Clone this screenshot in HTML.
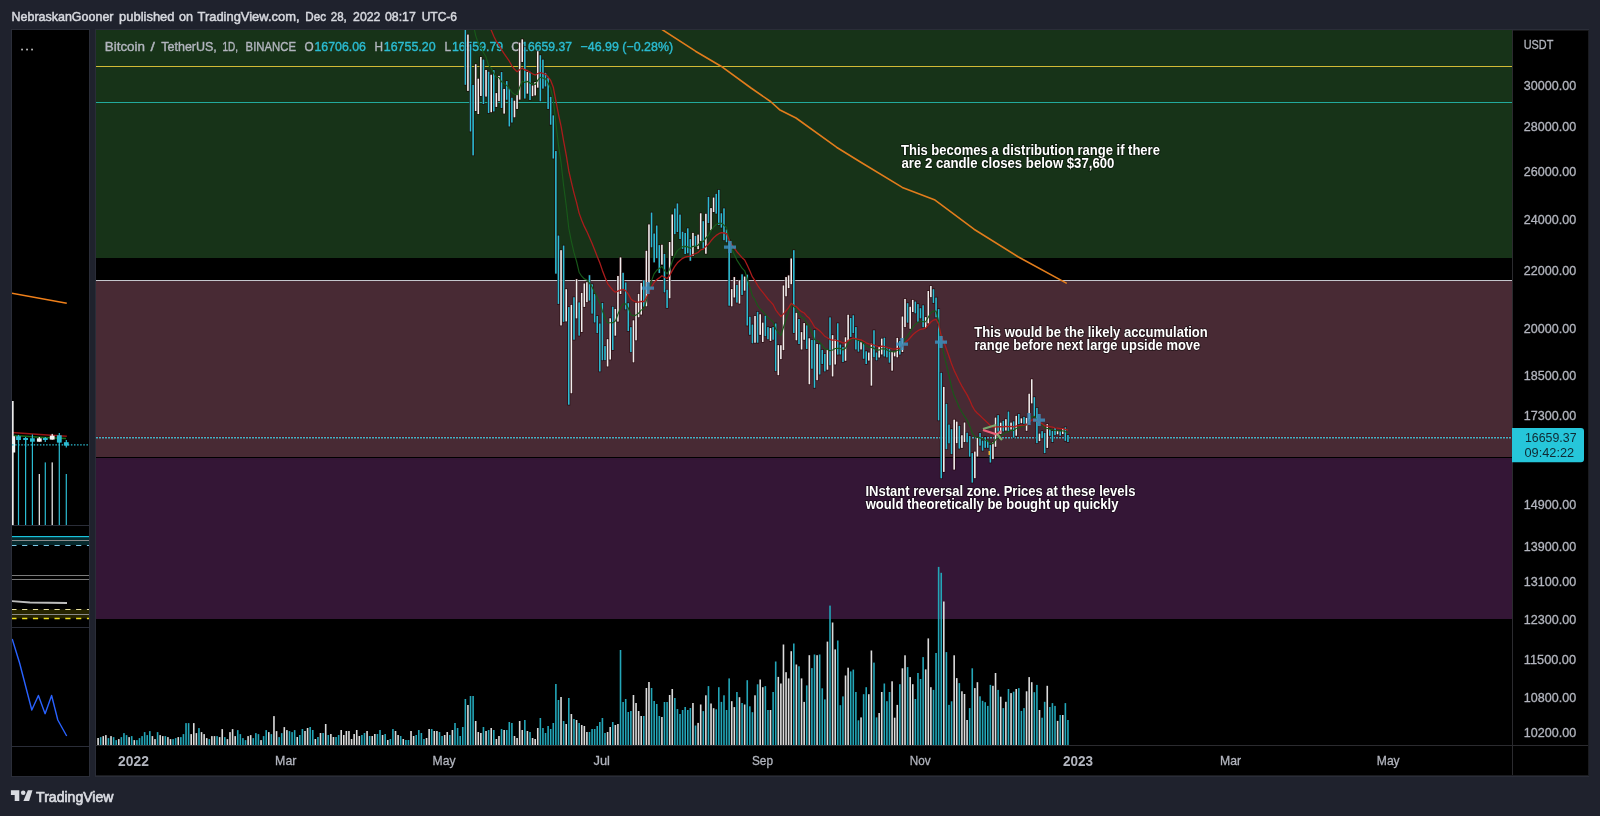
<!DOCTYPE html>
<html><head><meta charset="utf-8">
<style>
*{margin:0;padding:0}
html,body{width:1600px;height:816px;overflow:hidden;background:#1f222d}
svg{position:absolute;left:0;top:0;font-family:"Liberation Sans",sans-serif;will-change:transform}
</style></head><body>
<svg width="1600" height="816" viewBox="0 0 1600 816">
<defs>
<clipPath id="cp"><rect x="96" y="30" width="1416" height="715"/></clipPath>
<clipPath id="lpc"><rect x="12" y="30" width="77" height="746"/></clipPath>
</defs>
<rect x="0" y="0" width="1600" height="816" fill="#1f222d"/>
<rect x="11" y="29" width="79" height="748" fill="#2a2d38"/>
<rect x="95" y="29" width="1494" height="748" fill="#2a2d38"/>
<g clip-path="url(#lpc)">
<rect x="12" y="30" width="77" height="746" fill="#000"/>
<rect x="21.2" y="48.7" width="1.7" height="1.7" fill="#c8c8c8"/>
<rect x="26.2" y="48.7" width="1.7" height="1.7" fill="#c8c8c8"/>
<rect x="31.2" y="48.7" width="1.7" height="1.7" fill="#c8c8c8"/>
<line x1="11" y1="293" x2="66.8" y2="303.3" stroke="#f0801a" stroke-width="1.5"/>
<polyline fill="none" stroke="#961515" stroke-width="1.6" points="11,432.5 40,434.5 66.8,436.2"/>
<polyline fill="none" stroke="#176a18" stroke-width="1.5" points="14,435.5 40,437.2 66,438.5"/>
<rect x="12.2" y="401" width="1.2" height="124.0" fill="#f4f4f4"/>
<rect x="12.2" y="401" width="1.2" height="124.0" fill="#f4f4f4"/>
<rect x="10.4" y="436.2" width="4.8" height="16.3" fill="#f4f4f4"/>
<rect x="17.9" y="440" width="1.2" height="85.0" fill="#2bbcd2"/>
<rect x="17.9" y="434.9" width="1.2" height="7.7" fill="#2bbcd2"/>
<rect x="16.1" y="436.2" width="4.8" height="3.8" fill="#2bbcd2"/>
<rect x="25.0" y="440" width="1.2" height="85.0" fill="#2bbcd2"/>
<rect x="25.0" y="437" width="1.2" height="10.0" fill="#2bbcd2"/>
<rect x="23.2" y="438" width="4.8" height="2.0" fill="#2bbcd2"/>
<rect x="31.8" y="441" width="1.2" height="84.0" fill="#2bbcd2"/>
<rect x="31.8" y="434.5" width="1.2" height="7.2" fill="#2bbcd2"/>
<rect x="30.0" y="438.3" width="4.8" height="3.4" fill="#2bbcd2"/>
<rect x="38.7" y="474" width="1.2" height="51.0" fill="#f4f4f4"/>
<rect x="38.7" y="437" width="1.2" height="4.7" fill="#f4f4f4"/>
<rect x="36.9" y="438.3" width="4.8" height="3.4" fill="#f4f4f4"/>
<rect x="44.7" y="462.4" width="1.2" height="62.6" fill="#2bbcd2"/>
<rect x="44.7" y="437" width="1.2" height="5.0" fill="#2bbcd2"/>
<rect x="42.9" y="438" width="4.8" height="2.0" fill="#2bbcd2"/>
<rect x="51.6" y="462.4" width="1.2" height="62.6" fill="#f4f4f4"/>
<rect x="51.6" y="433.9" width="1.2" height="5.7" fill="#f4f4f4"/>
<rect x="49.8" y="435.7" width="4.8" height="3.9" fill="#f4f4f4"/>
<rect x="58.7" y="442" width="1.2" height="83.0" fill="#2bbcd2"/>
<rect x="58.7" y="433" width="1.2" height="9.6" fill="#2bbcd2"/>
<rect x="56.9" y="435.3" width="4.8" height="7.3" fill="#2bbcd2"/>
<rect x="65.7" y="474" width="1.2" height="51.0" fill="#2bbcd2"/>
<rect x="65.7" y="440" width="1.2" height="7.5" fill="#2bbcd2"/>
<rect x="63.9" y="442.2" width="4.8" height="3.4" fill="#2bbcd2"/>
<line x1="12" y1="444.8" x2="89" y2="444.8" stroke="#2bbcd2" stroke-width="1.2" stroke-dasharray="1.5 1.6"/>
<rect x="12" y="525" width="77" height="1" fill="#2a2d38"/>
<rect x="12" y="537" width="77" height="8" fill="#062a2e"/>
<rect x="12" y="536" width="77" height="1.2" fill="#19c3dc"/>
<rect x="12" y="540" width="77" height="1" fill="#8a8a8a"/>
<line x1="11.3" y1="545.5" x2="89" y2="545.5" stroke="#7cc8e8" stroke-width="1" stroke-dasharray="5.2 5.6"/>
<rect x="12" y="575" width="77" height="1" fill="#7a7a7a"/>
<rect x="12" y="579" width="77" height="1" fill="#7a7a7a"/>
<polyline fill="none" stroke="#bdbdbd" stroke-width="1.8" points="11,601 30,602.5 67,603"/>
<rect x="12" y="609.5" width="77" height="9" fill="#262400"/>
<line x1="11.3" y1="609.5" x2="89" y2="609.5" stroke="#e8e0a0" stroke-width="1.2" stroke-dasharray="5.2 5.6"/>
<rect x="12" y="614" width="77" height="1" fill="#8a8a8a"/>
<line x1="11.3" y1="618.5" x2="89" y2="618.5" stroke="#f0e020" stroke-width="1.3" stroke-dasharray="5.2 5.6"/>
<rect x="12" y="627" width="77" height="1" fill="#2a2d38"/>
<polyline fill="none" stroke="#2962ff" stroke-width="1.4" stroke-linejoin="round" points="12.2,639 19.6,663 31.8,710 38.4,695.5 45.1,713.7 51.6,695.5 57.8,720 66.7,736"/>
<rect x="12" y="746" width="77" height="1" fill="#2a2d38"/>
</g>
<g clip-path="url(#cp)">
<rect x="96" y="30" width="1416" height="715" fill="#000"/>
<rect x="96" y="30" width="1416" height="228" fill="#173318"/>
<rect x="96" y="281" width="1416" height="176" fill="#482a34"/>
<rect x="96" y="458" width="1416" height="161" fill="#341636"/>
<rect x="96" y="280" width="1416" height="1" fill="#c4c6cc"/>
<rect x="96" y="66" width="1416" height="1" fill="#d2ba36"/>
<rect x="96" y="102" width="1416" height="1" fill="#22aa9c"/>
<text x="104.75" y="50.60" font-size="13" fill="#b2b5be" textLength="40.27" lengthAdjust="spacingAndGlyphs" stroke="#b2b5be" stroke-width="0.4">Bitcoin</text>
<text x="150.60" y="50.60" font-size="13" fill="#b2b5be" textLength="4.37" lengthAdjust="spacingAndGlyphs" stroke="#b2b5be" stroke-width="0.4">/</text>
<text x="161.25" y="50.60" font-size="13" fill="#b2b5be" textLength="55.60" lengthAdjust="spacingAndGlyphs" stroke="#b2b5be" stroke-width="0.4">TetherUS,</text>
<text x="222.50" y="50.60" font-size="13" fill="#b2b5be" textLength="15.56" lengthAdjust="spacingAndGlyphs" stroke="#b2b5be" stroke-width="0.4">1D,</text>
<text x="245.60" y="50.60" font-size="13" fill="#b2b5be" textLength="50.35" lengthAdjust="spacingAndGlyphs" stroke="#b2b5be" stroke-width="0.4">BINANCE</text>
<text x="304.40" y="50.60" font-size="13" fill="#b2b5be" textLength="9.17" lengthAdjust="spacingAndGlyphs" stroke="#b2b5be" stroke-width="0.4">O</text>
<text x="314.40" y="50.60" font-size="13" fill="#2bbcd2" textLength="51.61" lengthAdjust="spacingAndGlyphs" stroke="#2bbcd2" stroke-width="0.4">16706.06</text>
<text x="374.40" y="50.60" font-size="13" fill="#b2b5be" textLength="8.53" lengthAdjust="spacingAndGlyphs" stroke="#b2b5be" stroke-width="0.4">H</text>
<text x="383.75" y="50.60" font-size="13" fill="#2bbcd2" textLength="51.86" lengthAdjust="spacingAndGlyphs" stroke="#2bbcd2" stroke-width="0.4">16755.20</text>
<text x="444.40" y="50.60" font-size="13" fill="#b2b5be" textLength="6.55" lengthAdjust="spacingAndGlyphs" stroke="#b2b5be" stroke-width="0.4">L</text>
<text x="451.90" y="50.60" font-size="13" fill="#2bbcd2" textLength="51.21" lengthAdjust="spacingAndGlyphs" stroke="#2bbcd2" stroke-width="0.4">16559.79</text>
<text x="511.25" y="50.60" font-size="13" fill="#b2b5be" textLength="9.18" lengthAdjust="spacingAndGlyphs" stroke="#b2b5be" stroke-width="0.4">C</text>
<text x="521.25" y="50.60" font-size="13" fill="#2bbcd2" textLength="50.66" lengthAdjust="spacingAndGlyphs" stroke="#2bbcd2" stroke-width="0.4">16659.37</text>
<text x="580.60" y="50.60" font-size="13" fill="#2bbcd2" textLength="92.49" lengthAdjust="spacingAndGlyphs" stroke="#2bbcd2" stroke-width="0.4">−46.99 (−0.28%)</text>
<rect x="96" y="436.5" width="1416" height="2" fill="#5c0c18" fill-opacity="0.6"/>
<line x1="96" y1="437.8" x2="1512" y2="437.8" stroke="#40b2c4" stroke-width="1.5" stroke-dasharray="2 1"/>
<rect x="96" y="457" width="1416" height="1" fill="#000"/>
<rect x="97.29" y="738.00" width="1.6" height="7.50" fill="#dcdcdc"/>
<rect x="99.88" y="737.10" width="1.6" height="8.40" fill="#23a6b8"/>
<rect x="102.46" y="736.10" width="1.6" height="9.40" fill="#dcdcdc"/>
<rect x="105.05" y="735.10" width="1.6" height="10.40" fill="#dcdcdc"/>
<rect x="107.64" y="738.10" width="1.6" height="7.40" fill="#23a6b8"/>
<rect x="110.22" y="736.10" width="1.6" height="9.40" fill="#dcdcdc"/>
<rect x="112.81" y="737.10" width="1.6" height="8.40" fill="#23a6b8"/>
<rect x="115.40" y="740.10" width="1.6" height="5.40" fill="#23a6b8"/>
<rect x="117.98" y="739.10" width="1.6" height="6.40" fill="#dcdcdc"/>
<rect x="120.57" y="737.10" width="1.6" height="8.40" fill="#23a6b8"/>
<rect x="123.15" y="733.10" width="1.6" height="12.40" fill="#23a6b8"/>
<rect x="125.74" y="735.10" width="1.6" height="10.40" fill="#23a6b8"/>
<rect x="128.33" y="737.10" width="1.6" height="8.40" fill="#dcdcdc"/>
<rect x="130.91" y="736.10" width="1.6" height="9.40" fill="#23a6b8"/>
<rect x="133.50" y="740.10" width="1.6" height="5.40" fill="#dcdcdc"/>
<rect x="136.09" y="740.10" width="1.6" height="5.40" fill="#23a6b8"/>
<rect x="138.67" y="738.10" width="1.6" height="7.40" fill="#23a6b8"/>
<rect x="141.26" y="736.10" width="1.6" height="9.40" fill="#23a6b8"/>
<rect x="143.85" y="732.10" width="1.6" height="13.40" fill="#23a6b8"/>
<rect x="146.43" y="735.10" width="1.6" height="10.40" fill="#23a6b8"/>
<rect x="149.02" y="731.10" width="1.6" height="14.40" fill="#23a6b8"/>
<rect x="151.60" y="736.10" width="1.6" height="9.40" fill="#dcdcdc"/>
<rect x="154.19" y="739.10" width="1.6" height="6.40" fill="#dcdcdc"/>
<rect x="156.78" y="732.10" width="1.6" height="13.40" fill="#23a6b8"/>
<rect x="159.36" y="735.10" width="1.6" height="10.40" fill="#dcdcdc"/>
<rect x="161.95" y="736.10" width="1.6" height="9.40" fill="#dcdcdc"/>
<rect x="164.54" y="736.10" width="1.6" height="9.40" fill="#23a6b8"/>
<rect x="167.12" y="737.10" width="1.6" height="8.40" fill="#dcdcdc"/>
<rect x="169.71" y="739.10" width="1.6" height="6.40" fill="#dcdcdc"/>
<rect x="172.29" y="739.10" width="1.6" height="6.40" fill="#23a6b8"/>
<rect x="174.88" y="738.10" width="1.6" height="7.40" fill="#23a6b8"/>
<rect x="177.47" y="737.10" width="1.6" height="8.40" fill="#dcdcdc"/>
<rect x="180.05" y="737.10" width="1.6" height="8.40" fill="#23a6b8"/>
<rect x="182.64" y="734.10" width="1.6" height="11.40" fill="#23a6b8"/>
<rect x="185.23" y="723.10" width="1.6" height="22.40" fill="#23a6b8"/>
<rect x="187.81" y="723.10" width="1.6" height="22.40" fill="#23a6b8"/>
<rect x="190.40" y="734.10" width="1.6" height="11.40" fill="#dcdcdc"/>
<rect x="192.98" y="723.10" width="1.6" height="22.40" fill="#dcdcdc"/>
<rect x="195.57" y="733.10" width="1.6" height="12.40" fill="#dcdcdc"/>
<rect x="198.16" y="728.10" width="1.6" height="17.40" fill="#23a6b8"/>
<rect x="200.74" y="732.10" width="1.6" height="13.40" fill="#dcdcdc"/>
<rect x="203.33" y="734.10" width="1.6" height="11.40" fill="#dcdcdc"/>
<rect x="205.92" y="738.10" width="1.6" height="7.40" fill="#dcdcdc"/>
<rect x="208.50" y="739.10" width="1.6" height="6.40" fill="#23a6b8"/>
<rect x="211.09" y="736.10" width="1.6" height="9.40" fill="#dcdcdc"/>
<rect x="213.68" y="736.10" width="1.6" height="9.40" fill="#dcdcdc"/>
<rect x="216.26" y="736.10" width="1.6" height="9.40" fill="#23a6b8"/>
<rect x="218.85" y="737.10" width="1.6" height="8.40" fill="#dcdcdc"/>
<rect x="221.43" y="729.10" width="1.6" height="16.40" fill="#dcdcdc"/>
<rect x="224.02" y="737.10" width="1.6" height="8.40" fill="#23a6b8"/>
<rect x="226.61" y="739.10" width="1.6" height="6.40" fill="#dcdcdc"/>
<rect x="229.19" y="732.10" width="1.6" height="13.40" fill="#dcdcdc"/>
<rect x="231.78" y="729.10" width="1.6" height="16.40" fill="#dcdcdc"/>
<rect x="234.37" y="736.10" width="1.6" height="9.40" fill="#dcdcdc"/>
<rect x="236.95" y="730.10" width="1.6" height="15.40" fill="#23a6b8"/>
<rect x="239.54" y="734.10" width="1.6" height="11.40" fill="#23a6b8"/>
<rect x="242.12" y="738.10" width="1.6" height="7.40" fill="#23a6b8"/>
<rect x="244.71" y="740.10" width="1.6" height="5.40" fill="#23a6b8"/>
<rect x="247.30" y="736.10" width="1.6" height="9.40" fill="#dcdcdc"/>
<rect x="249.88" y="735.10" width="1.6" height="10.40" fill="#dcdcdc"/>
<rect x="252.47" y="738.10" width="1.6" height="7.40" fill="#23a6b8"/>
<rect x="255.06" y="733.10" width="1.6" height="12.40" fill="#23a6b8"/>
<rect x="257.64" y="734.10" width="1.6" height="11.40" fill="#23a6b8"/>
<rect x="260.23" y="740.10" width="1.6" height="5.40" fill="#dcdcdc"/>
<rect x="262.81" y="736.10" width="1.6" height="9.40" fill="#23a6b8"/>
<rect x="265.40" y="730.10" width="1.6" height="15.40" fill="#23a6b8"/>
<rect x="267.99" y="732.10" width="1.6" height="13.40" fill="#dcdcdc"/>
<rect x="270.57" y="734.10" width="1.6" height="11.40" fill="#23a6b8"/>
<rect x="273.16" y="716.10" width="1.6" height="29.40" fill="#dcdcdc"/>
<rect x="275.75" y="731.10" width="1.6" height="14.40" fill="#dcdcdc"/>
<rect x="278.33" y="737.10" width="1.6" height="8.40" fill="#23a6b8"/>
<rect x="280.92" y="733.10" width="1.6" height="12.40" fill="#23a6b8"/>
<rect x="283.51" y="727.10" width="1.6" height="18.40" fill="#dcdcdc"/>
<rect x="286.09" y="730.10" width="1.6" height="15.40" fill="#dcdcdc"/>
<rect x="288.68" y="731.10" width="1.6" height="14.40" fill="#23a6b8"/>
<rect x="291.26" y="732.10" width="1.6" height="13.40" fill="#23a6b8"/>
<rect x="293.85" y="730.10" width="1.6" height="15.40" fill="#23a6b8"/>
<rect x="296.44" y="737.00" width="1.6" height="8.50" fill="#dcdcdc"/>
<rect x="299.02" y="735.00" width="1.6" height="10.50" fill="#23a6b8"/>
<rect x="301.61" y="729.00" width="1.6" height="16.50" fill="#23a6b8"/>
<rect x="304.20" y="731.00" width="1.6" height="14.50" fill="#dcdcdc"/>
<rect x="306.78" y="728.00" width="1.6" height="17.50" fill="#dcdcdc"/>
<rect x="309.37" y="727.00" width="1.6" height="18.50" fill="#23a6b8"/>
<rect x="311.95" y="730.00" width="1.6" height="15.50" fill="#23a6b8"/>
<rect x="314.54" y="739.00" width="1.6" height="6.50" fill="#dcdcdc"/>
<rect x="317.13" y="737.00" width="1.6" height="8.50" fill="#23a6b8"/>
<rect x="319.71" y="733.00" width="1.6" height="12.50" fill="#dcdcdc"/>
<rect x="322.30" y="733.00" width="1.6" height="12.50" fill="#23a6b8"/>
<rect x="324.89" y="724.00" width="1.6" height="21.50" fill="#dcdcdc"/>
<rect x="327.47" y="735.00" width="1.6" height="10.50" fill="#23a6b8"/>
<rect x="330.06" y="734.00" width="1.6" height="11.50" fill="#dcdcdc"/>
<rect x="332.65" y="737.00" width="1.6" height="8.50" fill="#dcdcdc"/>
<rect x="335.23" y="737.00" width="1.6" height="8.50" fill="#23a6b8"/>
<rect x="337.82" y="735.00" width="1.6" height="10.50" fill="#23a6b8"/>
<rect x="340.40" y="730.00" width="1.6" height="15.50" fill="#dcdcdc"/>
<rect x="342.99" y="735.00" width="1.6" height="10.50" fill="#dcdcdc"/>
<rect x="345.58" y="731.00" width="1.6" height="14.50" fill="#dcdcdc"/>
<rect x="348.16" y="731.00" width="1.6" height="14.50" fill="#dcdcdc"/>
<rect x="350.75" y="739.00" width="1.6" height="6.50" fill="#dcdcdc"/>
<rect x="353.34" y="734.00" width="1.6" height="11.50" fill="#dcdcdc"/>
<rect x="355.92" y="730.00" width="1.6" height="15.50" fill="#dcdcdc"/>
<rect x="358.51" y="736.00" width="1.6" height="9.50" fill="#dcdcdc"/>
<rect x="361.09" y="735.00" width="1.6" height="10.50" fill="#23a6b8"/>
<rect x="363.68" y="733.00" width="1.6" height="12.50" fill="#23a6b8"/>
<rect x="366.27" y="731.00" width="1.6" height="14.50" fill="#dcdcdc"/>
<rect x="368.85" y="736.00" width="1.6" height="9.50" fill="#23a6b8"/>
<rect x="371.44" y="736.00" width="1.6" height="9.50" fill="#dcdcdc"/>
<rect x="374.03" y="734.00" width="1.6" height="11.50" fill="#dcdcdc"/>
<rect x="376.61" y="734.00" width="1.6" height="11.50" fill="#23a6b8"/>
<rect x="379.20" y="730.00" width="1.6" height="15.50" fill="#23a6b8"/>
<rect x="381.78" y="735.00" width="1.6" height="10.50" fill="#dcdcdc"/>
<rect x="384.37" y="734.00" width="1.6" height="11.50" fill="#23a6b8"/>
<rect x="386.96" y="740.00" width="1.6" height="5.50" fill="#dcdcdc"/>
<rect x="389.54" y="739.00" width="1.6" height="6.50" fill="#23a6b8"/>
<rect x="392.13" y="729.00" width="1.6" height="16.50" fill="#23a6b8"/>
<rect x="394.72" y="731.00" width="1.6" height="14.50" fill="#dcdcdc"/>
<rect x="397.30" y="735.00" width="1.6" height="10.50" fill="#dcdcdc"/>
<rect x="399.89" y="736.00" width="1.6" height="9.50" fill="#23a6b8"/>
<rect x="402.48" y="739.00" width="1.6" height="6.50" fill="#dcdcdc"/>
<rect x="405.06" y="740.00" width="1.6" height="5.50" fill="#23a6b8"/>
<rect x="407.65" y="740.00" width="1.6" height="5.50" fill="#23a6b8"/>
<rect x="410.23" y="731.00" width="1.6" height="14.50" fill="#dcdcdc"/>
<rect x="412.82" y="736.00" width="1.6" height="9.50" fill="#dcdcdc"/>
<rect x="415.41" y="735.00" width="1.6" height="10.50" fill="#23a6b8"/>
<rect x="417.99" y="730.00" width="1.6" height="15.50" fill="#23a6b8"/>
<rect x="420.58" y="733.00" width="1.6" height="12.50" fill="#23a6b8"/>
<rect x="423.17" y="739.00" width="1.6" height="6.50" fill="#23a6b8"/>
<rect x="425.75" y="738.00" width="1.6" height="7.50" fill="#dcdcdc"/>
<rect x="428.34" y="729.00" width="1.6" height="16.50" fill="#dcdcdc"/>
<rect x="430.92" y="729.00" width="1.6" height="16.50" fill="#23a6b8"/>
<rect x="433.51" y="731.00" width="1.6" height="14.50" fill="#dcdcdc"/>
<rect x="436.10" y="731.00" width="1.6" height="14.50" fill="#dcdcdc"/>
<rect x="438.68" y="732.00" width="1.6" height="13.50" fill="#23a6b8"/>
<rect x="441.27" y="736.00" width="1.6" height="9.50" fill="#23a6b8"/>
<rect x="443.86" y="735.00" width="1.6" height="10.50" fill="#dcdcdc"/>
<rect x="446.44" y="732.00" width="1.6" height="13.50" fill="#dcdcdc"/>
<rect x="449.03" y="735.00" width="1.6" height="10.50" fill="#23a6b8"/>
<rect x="451.61" y="730.00" width="1.6" height="15.50" fill="#dcdcdc"/>
<rect x="454.20" y="723.00" width="1.6" height="22.50" fill="#23a6b8"/>
<rect x="456.79" y="728.00" width="1.6" height="17.50" fill="#23a6b8"/>
<rect x="459.37" y="736.00" width="1.6" height="9.50" fill="#23a6b8"/>
<rect x="461.96" y="727.00" width="1.6" height="18.50" fill="#23a6b8"/>
<rect x="464.55" y="699.00" width="1.6" height="46.50" fill="#23a6b8"/>
<rect x="467.13" y="705.00" width="1.6" height="40.50" fill="#dcdcdc"/>
<rect x="469.72" y="696.00" width="1.6" height="49.50" fill="#23a6b8"/>
<rect x="472.31" y="696.00" width="1.6" height="49.50" fill="#23a6b8"/>
<rect x="474.89" y="721.00" width="1.6" height="24.50" fill="#dcdcdc"/>
<rect x="477.48" y="732.00" width="1.6" height="13.50" fill="#dcdcdc"/>
<rect x="480.06" y="733.00" width="1.6" height="12.50" fill="#dcdcdc"/>
<rect x="482.65" y="727.00" width="1.6" height="18.50" fill="#23a6b8"/>
<rect x="485.24" y="731.00" width="1.6" height="14.50" fill="#dcdcdc"/>
<rect x="487.82" y="730.00" width="1.6" height="15.50" fill="#23a6b8"/>
<rect x="490.41" y="728.00" width="1.6" height="17.50" fill="#dcdcdc"/>
<rect x="493.00" y="730.00" width="1.6" height="15.50" fill="#23a6b8"/>
<rect x="495.58" y="739.00" width="1.6" height="6.50" fill="#dcdcdc"/>
<rect x="498.17" y="736.00" width="1.6" height="9.50" fill="#dcdcdc"/>
<rect x="500.75" y="729.00" width="1.6" height="16.50" fill="#23a6b8"/>
<rect x="503.34" y="730.00" width="1.6" height="15.50" fill="#dcdcdc"/>
<rect x="505.93" y="730.00" width="1.6" height="15.50" fill="#23a6b8"/>
<rect x="508.51" y="722.00" width="1.6" height="23.50" fill="#23a6b8"/>
<rect x="511.10" y="723.00" width="1.6" height="22.50" fill="#23a6b8"/>
<rect x="513.69" y="736.00" width="1.6" height="9.50" fill="#dcdcdc"/>
<rect x="516.27" y="738.00" width="1.6" height="7.50" fill="#dcdcdc"/>
<rect x="518.86" y="721.00" width="1.6" height="24.50" fill="#dcdcdc"/>
<rect x="521.45" y="730.00" width="1.6" height="15.50" fill="#dcdcdc"/>
<rect x="524.03" y="720.00" width="1.6" height="25.50" fill="#23a6b8"/>
<rect x="526.62" y="731.00" width="1.6" height="14.50" fill="#dcdcdc"/>
<rect x="529.20" y="732.00" width="1.6" height="13.50" fill="#23a6b8"/>
<rect x="531.79" y="738.00" width="1.6" height="7.50" fill="#dcdcdc"/>
<rect x="534.38" y="739.00" width="1.6" height="6.50" fill="#dcdcdc"/>
<rect x="536.96" y="728.00" width="1.6" height="17.50" fill="#dcdcdc"/>
<rect x="539.55" y="718.00" width="1.6" height="27.50" fill="#23a6b8"/>
<rect x="542.14" y="728.00" width="1.6" height="17.50" fill="#23a6b8"/>
<rect x="544.72" y="733.00" width="1.6" height="12.50" fill="#23a6b8"/>
<rect x="547.31" y="726.00" width="1.6" height="19.50" fill="#23a6b8"/>
<rect x="549.89" y="729.00" width="1.6" height="16.50" fill="#23a6b8"/>
<rect x="552.48" y="723.00" width="1.6" height="22.50" fill="#23a6b8"/>
<rect x="555.07" y="684.00" width="1.6" height="61.50" fill="#23a6b8"/>
<rect x="557.65" y="700.00" width="1.6" height="45.50" fill="#23a6b8"/>
<rect x="560.24" y="697.00" width="1.6" height="48.50" fill="#dcdcdc"/>
<rect x="562.83" y="721.00" width="1.6" height="24.50" fill="#23a6b8"/>
<rect x="565.41" y="724.00" width="1.6" height="21.50" fill="#dcdcdc"/>
<rect x="568.00" y="698.00" width="1.6" height="47.50" fill="#23a6b8"/>
<rect x="570.58" y="714.00" width="1.6" height="31.50" fill="#dcdcdc"/>
<rect x="573.17" y="719.00" width="1.6" height="26.50" fill="#23a6b8"/>
<rect x="575.76" y="720.00" width="1.6" height="25.50" fill="#dcdcdc"/>
<rect x="578.34" y="723.00" width="1.6" height="22.50" fill="#23a6b8"/>
<rect x="580.93" y="725.00" width="1.6" height="20.50" fill="#dcdcdc"/>
<rect x="583.52" y="726.00" width="1.6" height="19.50" fill="#dcdcdc"/>
<rect x="586.10" y="732.00" width="1.6" height="13.50" fill="#dcdcdc"/>
<rect x="588.69" y="732.00" width="1.6" height="13.50" fill="#23a6b8"/>
<rect x="591.28" y="729.00" width="1.6" height="16.50" fill="#23a6b8"/>
<rect x="593.86" y="729.00" width="1.6" height="16.50" fill="#23a6b8"/>
<rect x="596.45" y="726.00" width="1.6" height="19.50" fill="#23a6b8"/>
<rect x="599.03" y="722.00" width="1.6" height="23.50" fill="#23a6b8"/>
<rect x="601.62" y="718.00" width="1.6" height="27.50" fill="#23a6b8"/>
<rect x="604.21" y="733.00" width="1.6" height="12.50" fill="#23a6b8"/>
<rect x="606.79" y="732.00" width="1.6" height="13.50" fill="#dcdcdc"/>
<rect x="609.38" y="727.00" width="1.6" height="18.50" fill="#dcdcdc"/>
<rect x="611.97" y="722.00" width="1.6" height="23.50" fill="#23a6b8"/>
<rect x="614.55" y="725.00" width="1.6" height="20.50" fill="#dcdcdc"/>
<rect x="617.14" y="724.00" width="1.6" height="21.50" fill="#dcdcdc"/>
<rect x="619.72" y="650.00" width="1.6" height="95.50" fill="#23a6b8"/>
<rect x="622.31" y="702.00" width="1.6" height="43.50" fill="#23a6b8"/>
<rect x="624.90" y="699.00" width="1.6" height="46.50" fill="#23a6b8"/>
<rect x="627.48" y="712.00" width="1.6" height="33.50" fill="#23a6b8"/>
<rect x="630.07" y="711.00" width="1.6" height="34.50" fill="#23a6b8"/>
<rect x="632.66" y="695.00" width="1.6" height="50.50" fill="#dcdcdc"/>
<rect x="635.24" y="703.00" width="1.6" height="42.50" fill="#dcdcdc"/>
<rect x="637.83" y="711.00" width="1.6" height="34.50" fill="#dcdcdc"/>
<rect x="640.41" y="716.00" width="1.6" height="29.50" fill="#dcdcdc"/>
<rect x="643.00" y="716.00" width="1.6" height="29.50" fill="#23a6b8"/>
<rect x="645.59" y="688.00" width="1.6" height="57.50" fill="#dcdcdc"/>
<rect x="648.17" y="682.00" width="1.6" height="63.50" fill="#dcdcdc"/>
<rect x="650.76" y="688.00" width="1.6" height="57.50" fill="#23a6b8"/>
<rect x="653.35" y="701.00" width="1.6" height="44.50" fill="#23a6b8"/>
<rect x="655.93" y="704.00" width="1.6" height="41.50" fill="#23a6b8"/>
<rect x="658.52" y="716.00" width="1.6" height="29.50" fill="#23a6b8"/>
<rect x="661.11" y="717.00" width="1.6" height="28.50" fill="#dcdcdc"/>
<rect x="663.69" y="702.00" width="1.6" height="43.50" fill="#23a6b8"/>
<rect x="666.28" y="702.00" width="1.6" height="43.50" fill="#23a6b8"/>
<rect x="668.86" y="695.00" width="1.6" height="50.50" fill="#dcdcdc"/>
<rect x="671.45" y="689.00" width="1.6" height="56.50" fill="#dcdcdc"/>
<rect x="674.04" y="698.00" width="1.6" height="47.50" fill="#23a6b8"/>
<rect x="676.62" y="709.00" width="1.6" height="36.50" fill="#23a6b8"/>
<rect x="679.21" y="714.00" width="1.6" height="31.50" fill="#23a6b8"/>
<rect x="681.80" y="710.00" width="1.6" height="35.50" fill="#23a6b8"/>
<rect x="684.38" y="707.00" width="1.6" height="38.50" fill="#23a6b8"/>
<rect x="686.97" y="710.00" width="1.6" height="35.50" fill="#23a6b8"/>
<rect x="689.55" y="708.00" width="1.6" height="37.50" fill="#23a6b8"/>
<rect x="692.14" y="703.00" width="1.6" height="42.50" fill="#dcdcdc"/>
<rect x="694.73" y="725.50" width="1.6" height="20.00" fill="#23a6b8"/>
<rect x="697.31" y="722.90" width="1.6" height="22.60" fill="#dcdcdc"/>
<rect x="699.90" y="704.50" width="1.6" height="41.00" fill="#dcdcdc"/>
<rect x="702.49" y="711.10" width="1.6" height="34.40" fill="#23a6b8"/>
<rect x="705.07" y="695.30" width="1.6" height="50.20" fill="#dcdcdc"/>
<rect x="707.66" y="686.10" width="1.6" height="59.40" fill="#23a6b8"/>
<rect x="710.24" y="703.50" width="1.6" height="42.00" fill="#dcdcdc"/>
<rect x="712.83" y="708.20" width="1.6" height="37.30" fill="#dcdcdc"/>
<rect x="715.42" y="709.30" width="1.6" height="36.20" fill="#23a6b8"/>
<rect x="718.00" y="687.20" width="1.6" height="58.30" fill="#23a6b8"/>
<rect x="720.59" y="701.90" width="1.6" height="43.60" fill="#23a6b8"/>
<rect x="723.18" y="695.30" width="1.6" height="50.20" fill="#23a6b8"/>
<rect x="725.76" y="710.00" width="1.6" height="35.50" fill="#23a6b8"/>
<rect x="728.35" y="678.40" width="1.6" height="67.10" fill="#23a6b8"/>
<rect x="730.94" y="701.20" width="1.6" height="44.30" fill="#dcdcdc"/>
<rect x="733.52" y="707.10" width="1.6" height="38.40" fill="#dcdcdc"/>
<rect x="736.11" y="692.00" width="1.6" height="53.50" fill="#23a6b8"/>
<rect x="738.69" y="697.20" width="1.6" height="48.30" fill="#dcdcdc"/>
<rect x="741.28" y="703.00" width="1.6" height="42.50" fill="#23a6b8"/>
<rect x="743.87" y="704.50" width="1.6" height="41.00" fill="#dcdcdc"/>
<rect x="746.45" y="680.20" width="1.6" height="65.30" fill="#23a6b8"/>
<rect x="749.04" y="706.30" width="1.6" height="39.20" fill="#23a6b8"/>
<rect x="751.63" y="712.20" width="1.6" height="33.30" fill="#23a6b8"/>
<rect x="754.21" y="695.30" width="1.6" height="50.20" fill="#dcdcdc"/>
<rect x="756.80" y="684.30" width="1.6" height="61.20" fill="#23a6b8"/>
<rect x="759.38" y="679.50" width="1.6" height="66.00" fill="#dcdcdc"/>
<rect x="761.97" y="687.20" width="1.6" height="58.30" fill="#dcdcdc"/>
<rect x="764.56" y="686.10" width="1.6" height="59.40" fill="#23a6b8"/>
<rect x="767.14" y="710.00" width="1.6" height="35.50" fill="#23a6b8"/>
<rect x="769.73" y="710.00" width="1.6" height="35.50" fill="#dcdcdc"/>
<rect x="772.32" y="692.00" width="1.6" height="53.50" fill="#23a6b8"/>
<rect x="774.90" y="661.50" width="1.6" height="84.00" fill="#23a6b8"/>
<rect x="777.49" y="676.90" width="1.6" height="68.60" fill="#dcdcdc"/>
<rect x="780.08" y="683.50" width="1.6" height="62.00" fill="#dcdcdc"/>
<rect x="782.66" y="644.50" width="1.6" height="101.00" fill="#dcdcdc"/>
<rect x="785.25" y="672.20" width="1.6" height="73.30" fill="#dcdcdc"/>
<rect x="787.83" y="678.40" width="1.6" height="67.10" fill="#dcdcdc"/>
<rect x="790.42" y="651.20" width="1.6" height="94.30" fill="#dcdcdc"/>
<rect x="793.01" y="643.50" width="1.6" height="102.00" fill="#23a6b8"/>
<rect x="795.59" y="664.50" width="1.6" height="81.00" fill="#dcdcdc"/>
<rect x="798.18" y="666.30" width="1.6" height="79.20" fill="#23a6b8"/>
<rect x="800.77" y="678.40" width="1.6" height="67.10" fill="#dcdcdc"/>
<rect x="803.35" y="701.90" width="1.6" height="43.60" fill="#dcdcdc"/>
<rect x="805.94" y="685.40" width="1.6" height="60.10" fill="#23a6b8"/>
<rect x="808.52" y="655.20" width="1.6" height="90.30" fill="#dcdcdc"/>
<rect x="811.11" y="668.10" width="1.6" height="77.40" fill="#23a6b8"/>
<rect x="813.70" y="654.50" width="1.6" height="91.00" fill="#23a6b8"/>
<rect x="816.28" y="655.20" width="1.6" height="90.30" fill="#dcdcdc"/>
<rect x="818.87" y="654.50" width="1.6" height="91.00" fill="#23a6b8"/>
<rect x="821.46" y="688.30" width="1.6" height="57.20" fill="#23a6b8"/>
<rect x="824.04" y="699.40" width="1.6" height="46.10" fill="#23a6b8"/>
<rect x="826.63" y="641.60" width="1.6" height="103.90" fill="#dcdcdc"/>
<rect x="829.21" y="605.60" width="1.6" height="139.90" fill="#23a6b8"/>
<rect x="831.80" y="622.50" width="1.6" height="123.00" fill="#dcdcdc"/>
<rect x="834.39" y="649.40" width="1.6" height="96.10" fill="#dcdcdc"/>
<rect x="836.97" y="640.50" width="1.6" height="105.00" fill="#23a6b8"/>
<rect x="839.56" y="705.20" width="1.6" height="40.30" fill="#23a6b8"/>
<rect x="842.15" y="696.40" width="1.6" height="49.10" fill="#23a6b8"/>
<rect x="844.73" y="675.50" width="1.6" height="70.00" fill="#dcdcdc"/>
<rect x="847.32" y="667.70" width="1.6" height="77.80" fill="#dcdcdc"/>
<rect x="849.91" y="671.40" width="1.6" height="74.10" fill="#23a6b8"/>
<rect x="852.49" y="669.60" width="1.6" height="75.90" fill="#23a6b8"/>
<rect x="855.08" y="692.00" width="1.6" height="53.50" fill="#23a6b8"/>
<rect x="857.66" y="720.30" width="1.6" height="25.20" fill="#23a6b8"/>
<rect x="860.25" y="717.40" width="1.6" height="28.10" fill="#dcdcdc"/>
<rect x="862.84" y="694.20" width="1.6" height="51.30" fill="#23a6b8"/>
<rect x="865.42" y="687.20" width="1.6" height="58.30" fill="#23a6b8"/>
<rect x="868.01" y="694.20" width="1.6" height="51.30" fill="#dcdcdc"/>
<rect x="870.60" y="650.50" width="1.6" height="95.00" fill="#dcdcdc"/>
<rect x="873.18" y="662.60" width="1.6" height="82.90" fill="#23a6b8"/>
<rect x="875.77" y="717.40" width="1.6" height="28.10" fill="#23a6b8"/>
<rect x="878.35" y="713.00" width="1.6" height="32.50" fill="#dcdcdc"/>
<rect x="880.94" y="692.00" width="1.6" height="53.50" fill="#dcdcdc"/>
<rect x="883.53" y="683.50" width="1.6" height="62.00" fill="#23a6b8"/>
<rect x="886.11" y="701.20" width="1.6" height="44.30" fill="#23a6b8"/>
<rect x="888.70" y="692.00" width="1.6" height="53.50" fill="#23a6b8"/>
<rect x="891.29" y="681.30" width="1.6" height="64.20" fill="#dcdcdc"/>
<rect x="893.87" y="717.70" width="1.6" height="27.80" fill="#dcdcdc"/>
<rect x="896.46" y="704.90" width="1.6" height="40.60" fill="#dcdcdc"/>
<rect x="899.04" y="684.20" width="1.6" height="61.30" fill="#23a6b8"/>
<rect x="901.63" y="668.30" width="1.6" height="77.20" fill="#dcdcdc"/>
<rect x="904.22" y="655.30" width="1.6" height="90.20" fill="#dcdcdc"/>
<rect x="906.80" y="667.10" width="1.6" height="78.40" fill="#23a6b8"/>
<rect x="909.39" y="677.10" width="1.6" height="68.40" fill="#dcdcdc"/>
<rect x="911.98" y="684.20" width="1.6" height="61.30" fill="#dcdcdc"/>
<rect x="914.56" y="699.00" width="1.6" height="46.50" fill="#23a6b8"/>
<rect x="917.15" y="673.00" width="1.6" height="72.50" fill="#23a6b8"/>
<rect x="919.74" y="679.00" width="1.6" height="66.50" fill="#23a6b8"/>
<rect x="922.32" y="657.10" width="1.6" height="88.40" fill="#23a6b8"/>
<rect x="924.91" y="669.40" width="1.6" height="76.10" fill="#dcdcdc"/>
<rect x="927.49" y="638.40" width="1.6" height="107.10" fill="#dcdcdc"/>
<rect x="930.08" y="687.20" width="1.6" height="58.30" fill="#dcdcdc"/>
<rect x="932.67" y="689.90" width="1.6" height="55.60" fill="#23a6b8"/>
<rect x="935.25" y="653.00" width="1.6" height="92.50" fill="#23a6b8"/>
<rect x="937.84" y="566.90" width="1.6" height="178.60" fill="#23a6b8"/>
<rect x="940.43" y="572.80" width="1.6" height="172.70" fill="#23a6b8"/>
<rect x="943.01" y="601.50" width="1.6" height="144.00" fill="#dcdcdc"/>
<rect x="945.60" y="652.10" width="1.6" height="93.40" fill="#23a6b8"/>
<rect x="948.18" y="704.90" width="1.6" height="40.60" fill="#23a6b8"/>
<rect x="950.77" y="701.30" width="1.6" height="44.20" fill="#23a6b8"/>
<rect x="953.36" y="655.30" width="1.6" height="90.20" fill="#dcdcdc"/>
<rect x="955.94" y="678.10" width="1.6" height="67.40" fill="#dcdcdc"/>
<rect x="958.53" y="683.10" width="1.6" height="62.40" fill="#23a6b8"/>
<rect x="961.12" y="691.30" width="1.6" height="54.20" fill="#dcdcdc"/>
<rect x="963.70" y="694.00" width="1.6" height="51.50" fill="#dcdcdc"/>
<rect x="966.29" y="720.00" width="1.6" height="25.50" fill="#dcdcdc"/>
<rect x="968.87" y="708.10" width="1.6" height="37.40" fill="#23a6b8"/>
<rect x="971.46" y="668.30" width="1.6" height="77.20" fill="#23a6b8"/>
<rect x="974.05" y="688.10" width="1.6" height="57.40" fill="#dcdcdc"/>
<rect x="976.63" y="682.20" width="1.6" height="63.30" fill="#dcdcdc"/>
<rect x="979.22" y="696.30" width="1.6" height="49.20" fill="#23a6b8"/>
<rect x="981.81" y="700.80" width="1.6" height="44.70" fill="#23a6b8"/>
<rect x="984.39" y="702.20" width="1.6" height="43.30" fill="#23a6b8"/>
<rect x="986.98" y="705.90" width="1.6" height="39.60" fill="#23a6b8"/>
<rect x="989.57" y="684.90" width="1.6" height="60.60" fill="#23a6b8"/>
<rect x="992.15" y="685.80" width="1.6" height="59.70" fill="#dcdcdc"/>
<rect x="994.74" y="673.00" width="1.6" height="72.50" fill="#dcdcdc"/>
<rect x="997.32" y="689.90" width="1.6" height="55.60" fill="#23a6b8"/>
<rect x="999.91" y="696.70" width="1.6" height="48.80" fill="#dcdcdc"/>
<rect x="1002.50" y="708.10" width="1.6" height="37.40" fill="#23a6b8"/>
<rect x="1005.08" y="701.80" width="1.6" height="43.70" fill="#dcdcdc"/>
<rect x="1007.67" y="689.00" width="1.6" height="56.50" fill="#23a6b8"/>
<rect x="1010.26" y="693.10" width="1.6" height="52.40" fill="#dcdcdc"/>
<rect x="1012.84" y="691.70" width="1.6" height="53.80" fill="#23a6b8"/>
<rect x="1015.43" y="689.00" width="1.6" height="56.50" fill="#dcdcdc"/>
<rect x="1018.01" y="688.10" width="1.6" height="57.40" fill="#23a6b8"/>
<rect x="1020.60" y="710.90" width="1.6" height="34.60" fill="#23a6b8"/>
<rect x="1023.19" y="708.10" width="1.6" height="37.40" fill="#23a6b8"/>
<rect x="1025.77" y="691.30" width="1.6" height="54.20" fill="#dcdcdc"/>
<rect x="1028.36" y="677.10" width="1.6" height="68.40" fill="#dcdcdc"/>
<rect x="1030.95" y="682.20" width="1.6" height="63.30" fill="#dcdcdc"/>
<rect x="1033.53" y="692.20" width="1.6" height="53.30" fill="#23a6b8"/>
<rect x="1036.12" y="684.90" width="1.6" height="60.60" fill="#23a6b8"/>
<rect x="1038.71" y="710.00" width="1.6" height="35.50" fill="#dcdcdc"/>
<rect x="1041.29" y="717.70" width="1.6" height="27.80" fill="#23a6b8"/>
<rect x="1043.88" y="701.80" width="1.6" height="43.70" fill="#23a6b8"/>
<rect x="1046.46" y="685.80" width="1.6" height="59.70" fill="#dcdcdc"/>
<rect x="1049.05" y="707.00" width="1.6" height="38.50" fill="#23a6b8"/>
<rect x="1051.64" y="703.10" width="1.6" height="42.40" fill="#23a6b8"/>
<rect x="1054.22" y="705.90" width="1.6" height="39.60" fill="#23a6b8"/>
<rect x="1056.81" y="720.90" width="1.6" height="24.60" fill="#dcdcdc"/>
<rect x="1059.40" y="715.00" width="1.6" height="30.50" fill="#23a6b8"/>
<rect x="1061.98" y="715.00" width="1.6" height="30.50" fill="#dcdcdc"/>
<rect x="1064.57" y="703.10" width="1.6" height="42.40" fill="#23a6b8"/>
<rect x="1067.15" y="720.00" width="1.6" height="25.50" fill="#23a6b8"/>
<polyline fill="none" stroke="#e27d1c" stroke-width="1.6" stroke-linejoin="round" points="660.0,28.0 662.5,29.8 695.5,51.2 721.0,66.2 751.0,88.0 770.5,101.5 779.5,109.7 796.0,118.0 836.5,147.2 860.0,161.7 902.3,187.4 934.4,199.7 974.0,229.2 1018.0,256.7 1066.8,283.4"/>
<rect x="463.90" y="28.30" width="2.9" height="57.22" fill="#200004" fill-opacity="0.75"/>
<rect x="464.55" y="29.00" width="1.6" height="55.82" fill="#2bbcd2"/>
<rect x="466.48" y="33.85" width="2.9" height="57.76" fill="#200004" fill-opacity="0.75"/>
<rect x="467.13" y="34.55" width="1.6" height="56.36" fill="#f2eeee"/>
<rect x="469.07" y="43.40" width="2.9" height="88.82" fill="#200004" fill-opacity="0.75"/>
<rect x="469.72" y="44.10" width="1.6" height="87.42" fill="#2bbcd2"/>
<rect x="471.66" y="84.14" width="2.9" height="71.98" fill="#200004" fill-opacity="0.75"/>
<rect x="472.31" y="84.84" width="1.6" height="70.58" fill="#2bbcd2"/>
<rect x="474.24" y="63.52" width="2.9" height="48.19" fill="#200004" fill-opacity="0.75"/>
<rect x="474.89" y="64.22" width="1.6" height="46.79" fill="#f2eeee"/>
<rect x="476.83" y="77.96" width="2.9" height="36.79" fill="#200004" fill-opacity="0.75"/>
<rect x="477.48" y="78.66" width="1.6" height="35.39" fill="#f2eeee"/>
<rect x="479.41" y="56.29" width="2.9" height="40.40" fill="#200004" fill-opacity="0.75"/>
<rect x="480.06" y="56.99" width="1.6" height="39.00" fill="#f2eeee"/>
<rect x="482.00" y="58.81" width="2.9" height="45.93" fill="#200004" fill-opacity="0.75"/>
<rect x="482.65" y="59.51" width="1.6" height="44.53" fill="#2bbcd2"/>
<rect x="484.59" y="69.24" width="2.9" height="28.06" fill="#200004" fill-opacity="0.75"/>
<rect x="485.24" y="69.94" width="1.6" height="26.66" fill="#f2eeee"/>
<rect x="487.17" y="70.96" width="2.9" height="42.78" fill="#200004" fill-opacity="0.75"/>
<rect x="487.82" y="71.66" width="1.6" height="41.38" fill="#2bbcd2"/>
<rect x="489.76" y="74.00" width="2.9" height="38.93" fill="#200004" fill-opacity="0.75"/>
<rect x="490.41" y="74.70" width="1.6" height="37.53" fill="#f2eeee"/>
<rect x="492.35" y="69.46" width="2.9" height="42.70" fill="#200004" fill-opacity="0.75"/>
<rect x="493.00" y="70.16" width="1.6" height="41.30" fill="#2bbcd2"/>
<rect x="494.93" y="92.37" width="2.9" height="15.27" fill="#200004" fill-opacity="0.75"/>
<rect x="495.58" y="93.07" width="1.6" height="13.87" fill="#f2eeee"/>
<rect x="497.52" y="75.14" width="2.9" height="26.72" fill="#200004" fill-opacity="0.75"/>
<rect x="498.17" y="75.84" width="1.6" height="25.32" fill="#f2eeee"/>
<rect x="500.10" y="71.35" width="2.9" height="37.37" fill="#200004" fill-opacity="0.75"/>
<rect x="500.75" y="72.05" width="1.6" height="35.97" fill="#2bbcd2"/>
<rect x="502.69" y="88.21" width="2.9" height="26.10" fill="#200004" fill-opacity="0.75"/>
<rect x="503.34" y="88.91" width="1.6" height="24.70" fill="#f2eeee"/>
<rect x="505.28" y="80.36" width="2.9" height="20.15" fill="#200004" fill-opacity="0.75"/>
<rect x="505.93" y="81.06" width="1.6" height="18.75" fill="#2bbcd2"/>
<rect x="507.86" y="87.69" width="2.9" height="39.50" fill="#200004" fill-opacity="0.75"/>
<rect x="508.51" y="88.39" width="1.6" height="38.10" fill="#2bbcd2"/>
<rect x="510.45" y="96.98" width="2.9" height="26.30" fill="#200004" fill-opacity="0.75"/>
<rect x="511.10" y="97.68" width="1.6" height="24.90" fill="#2bbcd2"/>
<rect x="513.04" y="99.99" width="2.9" height="18.04" fill="#200004" fill-opacity="0.75"/>
<rect x="513.69" y="100.69" width="1.6" height="16.64" fill="#f2eeee"/>
<rect x="515.62" y="94.27" width="2.9" height="15.38" fill="#200004" fill-opacity="0.75"/>
<rect x="516.27" y="94.97" width="1.6" height="13.98" fill="#f2eeee"/>
<rect x="518.21" y="41.93" width="2.9" height="58.44" fill="#200004" fill-opacity="0.75"/>
<rect x="518.86" y="42.63" width="1.6" height="57.04" fill="#f2eeee"/>
<rect x="520.79" y="38.62" width="2.9" height="24.04" fill="#200004" fill-opacity="0.75"/>
<rect x="521.45" y="39.32" width="1.6" height="22.64" fill="#f2eeee"/>
<rect x="523.38" y="46.41" width="2.9" height="52.91" fill="#200004" fill-opacity="0.75"/>
<rect x="524.03" y="47.11" width="1.6" height="51.51" fill="#2bbcd2"/>
<rect x="525.97" y="71.16" width="2.9" height="23.22" fill="#200004" fill-opacity="0.75"/>
<rect x="526.62" y="71.86" width="1.6" height="21.82" fill="#f2eeee"/>
<rect x="528.55" y="70.96" width="2.9" height="29.77" fill="#200004" fill-opacity="0.75"/>
<rect x="529.20" y="71.66" width="1.6" height="28.37" fill="#2bbcd2"/>
<rect x="531.14" y="84.82" width="2.9" height="12.05" fill="#200004" fill-opacity="0.75"/>
<rect x="531.79" y="85.52" width="1.6" height="10.65" fill="#f2eeee"/>
<rect x="533.73" y="81.29" width="2.9" height="14.85" fill="#200004" fill-opacity="0.75"/>
<rect x="534.38" y="81.99" width="1.6" height="13.45" fill="#f2eeee"/>
<rect x="536.31" y="50.50" width="2.9" height="37.90" fill="#200004" fill-opacity="0.75"/>
<rect x="536.96" y="51.20" width="1.6" height="36.50" fill="#f2eeee"/>
<rect x="538.90" y="54.46" width="2.9" height="47.59" fill="#200004" fill-opacity="0.75"/>
<rect x="539.55" y="55.16" width="1.6" height="46.19" fill="#2bbcd2"/>
<rect x="541.49" y="58.85" width="2.9" height="30.50" fill="#200004" fill-opacity="0.75"/>
<rect x="542.14" y="59.55" width="1.6" height="29.10" fill="#2bbcd2"/>
<rect x="544.07" y="72.04" width="2.9" height="15.16" fill="#200004" fill-opacity="0.75"/>
<rect x="544.72" y="72.74" width="1.6" height="13.76" fill="#2bbcd2"/>
<rect x="546.66" y="76.91" width="2.9" height="32.74" fill="#200004" fill-opacity="0.75"/>
<rect x="547.31" y="77.61" width="1.6" height="31.34" fill="#2bbcd2"/>
<rect x="549.24" y="96.11" width="2.9" height="29.35" fill="#200004" fill-opacity="0.75"/>
<rect x="549.89" y="96.81" width="1.6" height="27.95" fill="#2bbcd2"/>
<rect x="551.83" y="114.65" width="2.9" height="44.62" fill="#200004" fill-opacity="0.75"/>
<rect x="552.48" y="115.35" width="1.6" height="43.22" fill="#2bbcd2"/>
<rect x="554.42" y="150.35" width="2.9" height="123.99" fill="#200004" fill-opacity="0.75"/>
<rect x="555.07" y="151.05" width="1.6" height="122.59" fill="#2bbcd2"/>
<rect x="557.00" y="234.83" width="2.9" height="69.79" fill="#200004" fill-opacity="0.75"/>
<rect x="557.65" y="235.53" width="1.6" height="68.39" fill="#2bbcd2"/>
<rect x="559.59" y="249.46" width="2.9" height="76.70" fill="#200004" fill-opacity="0.75"/>
<rect x="560.24" y="250.16" width="1.6" height="75.30" fill="#f2eeee"/>
<rect x="562.18" y="244.82" width="2.9" height="77.74" fill="#200004" fill-opacity="0.75"/>
<rect x="562.83" y="245.52" width="1.6" height="76.34" fill="#2bbcd2"/>
<rect x="564.76" y="288.47" width="2.9" height="33.68" fill="#200004" fill-opacity="0.75"/>
<rect x="565.41" y="289.17" width="1.6" height="32.28" fill="#f2eeee"/>
<rect x="567.35" y="306.37" width="2.9" height="99.06" fill="#200004" fill-opacity="0.75"/>
<rect x="568.00" y="307.07" width="1.6" height="97.66" fill="#2bbcd2"/>
<rect x="569.93" y="304.11" width="2.9" height="89.92" fill="#200004" fill-opacity="0.75"/>
<rect x="570.58" y="304.81" width="1.6" height="88.52" fill="#f2eeee"/>
<rect x="572.52" y="296.52" width="2.9" height="43.91" fill="#200004" fill-opacity="0.75"/>
<rect x="573.17" y="297.22" width="1.6" height="42.51" fill="#2bbcd2"/>
<rect x="575.11" y="278.50" width="2.9" height="40.63" fill="#200004" fill-opacity="0.75"/>
<rect x="575.76" y="279.20" width="1.6" height="39.23" fill="#f2eeee"/>
<rect x="577.69" y="301.67" width="2.9" height="34.72" fill="#200004" fill-opacity="0.75"/>
<rect x="578.34" y="302.37" width="1.6" height="33.32" fill="#2bbcd2"/>
<rect x="580.28" y="292.18" width="2.9" height="40.54" fill="#200004" fill-opacity="0.75"/>
<rect x="580.93" y="292.88" width="1.6" height="39.14" fill="#f2eeee"/>
<rect x="582.87" y="282.71" width="2.9" height="24.94" fill="#200004" fill-opacity="0.75"/>
<rect x="583.52" y="283.41" width="1.6" height="23.54" fill="#f2eeee"/>
<rect x="585.45" y="281.51" width="2.9" height="21.38" fill="#200004" fill-opacity="0.75"/>
<rect x="586.10" y="282.21" width="1.6" height="19.98" fill="#f2eeee"/>
<rect x="588.04" y="274.48" width="2.9" height="26.87" fill="#200004" fill-opacity="0.75"/>
<rect x="588.69" y="275.18" width="1.6" height="25.47" fill="#2bbcd2"/>
<rect x="590.63" y="283.57" width="2.9" height="30.80" fill="#200004" fill-opacity="0.75"/>
<rect x="591.28" y="284.27" width="1.6" height="29.40" fill="#2bbcd2"/>
<rect x="593.21" y="293.32" width="2.9" height="29.87" fill="#200004" fill-opacity="0.75"/>
<rect x="593.86" y="294.02" width="1.6" height="28.47" fill="#2bbcd2"/>
<rect x="595.80" y="315.26" width="2.9" height="18.62" fill="#200004" fill-opacity="0.75"/>
<rect x="596.45" y="315.96" width="1.6" height="17.22" fill="#2bbcd2"/>
<rect x="598.38" y="322.73" width="2.9" height="49.45" fill="#200004" fill-opacity="0.75"/>
<rect x="599.03" y="323.43" width="1.6" height="48.05" fill="#2bbcd2"/>
<rect x="600.97" y="302.27" width="2.9" height="58.77" fill="#200004" fill-opacity="0.75"/>
<rect x="601.62" y="302.97" width="1.6" height="57.37" fill="#2bbcd2"/>
<rect x="603.56" y="345.37" width="2.9" height="15.55" fill="#200004" fill-opacity="0.75"/>
<rect x="604.21" y="346.07" width="1.6" height="14.15" fill="#2bbcd2"/>
<rect x="606.14" y="338.43" width="2.9" height="28.78" fill="#200004" fill-opacity="0.75"/>
<rect x="606.79" y="339.13" width="1.6" height="27.38" fill="#f2eeee"/>
<rect x="608.73" y="317.55" width="2.9" height="42.70" fill="#200004" fill-opacity="0.75"/>
<rect x="609.38" y="318.25" width="1.6" height="41.30" fill="#f2eeee"/>
<rect x="611.32" y="305.99" width="2.9" height="44.74" fill="#200004" fill-opacity="0.75"/>
<rect x="611.97" y="306.69" width="1.6" height="43.34" fill="#2bbcd2"/>
<rect x="613.90" y="308.16" width="2.9" height="28.26" fill="#200004" fill-opacity="0.75"/>
<rect x="614.55" y="308.86" width="1.6" height="26.86" fill="#f2eeee"/>
<rect x="616.49" y="275.33" width="2.9" height="46.99" fill="#200004" fill-opacity="0.75"/>
<rect x="617.14" y="276.03" width="1.6" height="45.59" fill="#f2eeee"/>
<rect x="619.07" y="256.69" width="2.9" height="38.05" fill="#200004" fill-opacity="0.75"/>
<rect x="619.72" y="257.39" width="1.6" height="36.65" fill="#f2eeee"/>
<rect x="621.66" y="272.09" width="2.9" height="18.98" fill="#200004" fill-opacity="0.75"/>
<rect x="622.31" y="272.79" width="1.6" height="17.58" fill="#2bbcd2"/>
<rect x="624.25" y="281.71" width="2.9" height="28.44" fill="#200004" fill-opacity="0.75"/>
<rect x="624.90" y="282.41" width="1.6" height="27.04" fill="#2bbcd2"/>
<rect x="626.83" y="302.44" width="2.9" height="29.32" fill="#200004" fill-opacity="0.75"/>
<rect x="627.48" y="303.14" width="1.6" height="27.92" fill="#2bbcd2"/>
<rect x="629.42" y="326.43" width="2.9" height="26.45" fill="#200004" fill-opacity="0.75"/>
<rect x="630.07" y="327.13" width="1.6" height="25.05" fill="#2bbcd2"/>
<rect x="632.01" y="319.59" width="2.9" height="43.51" fill="#200004" fill-opacity="0.75"/>
<rect x="632.66" y="320.29" width="1.6" height="42.11" fill="#f2eeee"/>
<rect x="634.59" y="301.98" width="2.9" height="39.10" fill="#200004" fill-opacity="0.75"/>
<rect x="635.24" y="302.68" width="1.6" height="37.70" fill="#f2eeee"/>
<rect x="637.18" y="293.12" width="2.9" height="24.92" fill="#200004" fill-opacity="0.75"/>
<rect x="637.83" y="293.82" width="1.6" height="23.52" fill="#f2eeee"/>
<rect x="639.76" y="282.24" width="2.9" height="33.07" fill="#200004" fill-opacity="0.75"/>
<rect x="640.41" y="282.94" width="1.6" height="31.67" fill="#f2eeee"/>
<rect x="642.35" y="279.57" width="2.9" height="27.76" fill="#200004" fill-opacity="0.75"/>
<rect x="643.00" y="280.27" width="1.6" height="26.36" fill="#2bbcd2"/>
<rect x="644.94" y="250.07" width="2.9" height="56.98" fill="#200004" fill-opacity="0.75"/>
<rect x="645.59" y="250.77" width="1.6" height="55.58" fill="#f2eeee"/>
<rect x="647.52" y="223.71" width="2.9" height="60.18" fill="#200004" fill-opacity="0.75"/>
<rect x="648.17" y="224.41" width="1.6" height="58.78" fill="#f2eeee"/>
<rect x="650.11" y="211.83" width="2.9" height="36.25" fill="#200004" fill-opacity="0.75"/>
<rect x="650.76" y="212.53" width="1.6" height="34.85" fill="#2bbcd2"/>
<rect x="652.70" y="232.80" width="2.9" height="30.26" fill="#200004" fill-opacity="0.75"/>
<rect x="653.35" y="233.50" width="1.6" height="28.86" fill="#2bbcd2"/>
<rect x="655.28" y="224.79" width="2.9" height="34.02" fill="#200004" fill-opacity="0.75"/>
<rect x="655.93" y="225.49" width="1.6" height="32.62" fill="#2bbcd2"/>
<rect x="657.87" y="244.38" width="2.9" height="29.28" fill="#200004" fill-opacity="0.75"/>
<rect x="658.52" y="245.08" width="1.6" height="27.88" fill="#2bbcd2"/>
<rect x="660.46" y="244.04" width="2.9" height="21.29" fill="#200004" fill-opacity="0.75"/>
<rect x="661.11" y="244.74" width="1.6" height="19.89" fill="#f2eeee"/>
<rect x="663.04" y="253.16" width="2.9" height="39.95" fill="#200004" fill-opacity="0.75"/>
<rect x="663.69" y="253.86" width="1.6" height="38.55" fill="#2bbcd2"/>
<rect x="665.63" y="288.97" width="2.9" height="19.69" fill="#200004" fill-opacity="0.75"/>
<rect x="666.28" y="289.67" width="1.6" height="18.29" fill="#2bbcd2"/>
<rect x="668.21" y="241.31" width="2.9" height="57.70" fill="#200004" fill-opacity="0.75"/>
<rect x="668.86" y="242.01" width="1.6" height="56.30" fill="#f2eeee"/>
<rect x="670.80" y="213.73" width="2.9" height="42.87" fill="#200004" fill-opacity="0.75"/>
<rect x="671.45" y="214.43" width="1.6" height="41.47" fill="#f2eeee"/>
<rect x="673.39" y="207.74" width="2.9" height="27.16" fill="#200004" fill-opacity="0.75"/>
<rect x="674.04" y="208.44" width="1.6" height="25.76" fill="#2bbcd2"/>
<rect x="675.97" y="202.70" width="2.9" height="30.02" fill="#200004" fill-opacity="0.75"/>
<rect x="676.62" y="203.40" width="1.6" height="28.62" fill="#2bbcd2"/>
<rect x="678.56" y="213.86" width="2.9" height="25.87" fill="#200004" fill-opacity="0.75"/>
<rect x="679.21" y="214.56" width="1.6" height="24.47" fill="#2bbcd2"/>
<rect x="681.15" y="231.01" width="2.9" height="18.54" fill="#200004" fill-opacity="0.75"/>
<rect x="681.80" y="231.71" width="1.6" height="17.14" fill="#2bbcd2"/>
<rect x="683.73" y="232.16" width="2.9" height="22.61" fill="#200004" fill-opacity="0.75"/>
<rect x="684.38" y="232.86" width="1.6" height="21.21" fill="#2bbcd2"/>
<rect x="686.32" y="227.58" width="2.9" height="26.43" fill="#200004" fill-opacity="0.75"/>
<rect x="686.97" y="228.28" width="1.6" height="25.03" fill="#2bbcd2"/>
<rect x="688.90" y="238.38" width="2.9" height="23.10" fill="#200004" fill-opacity="0.75"/>
<rect x="689.55" y="239.08" width="1.6" height="21.70" fill="#2bbcd2"/>
<rect x="691.49" y="232.19" width="2.9" height="24.33" fill="#200004" fill-opacity="0.75"/>
<rect x="692.14" y="232.89" width="1.6" height="22.93" fill="#f2eeee"/>
<rect x="694.08" y="235.13" width="2.9" height="12.50" fill="#200004" fill-opacity="0.75"/>
<rect x="694.73" y="235.83" width="1.6" height="11.10" fill="#2bbcd2"/>
<rect x="696.66" y="233.88" width="2.9" height="15.96" fill="#200004" fill-opacity="0.75"/>
<rect x="697.31" y="234.58" width="1.6" height="14.56" fill="#f2eeee"/>
<rect x="699.25" y="212.59" width="2.9" height="29.03" fill="#200004" fill-opacity="0.75"/>
<rect x="699.90" y="213.29" width="1.6" height="27.63" fill="#f2eeee"/>
<rect x="701.84" y="220.46" width="2.9" height="28.82" fill="#200004" fill-opacity="0.75"/>
<rect x="702.49" y="221.16" width="1.6" height="27.42" fill="#2bbcd2"/>
<rect x="704.42" y="213.06" width="2.9" height="41.39" fill="#200004" fill-opacity="0.75"/>
<rect x="705.07" y="213.76" width="1.6" height="39.99" fill="#f2eeee"/>
<rect x="707.01" y="196.16" width="2.9" height="27.63" fill="#200004" fill-opacity="0.75"/>
<rect x="707.66" y="196.86" width="1.6" height="26.23" fill="#2bbcd2"/>
<rect x="709.59" y="207.39" width="2.9" height="23.57" fill="#200004" fill-opacity="0.75"/>
<rect x="710.24" y="208.09" width="1.6" height="22.17" fill="#f2eeee"/>
<rect x="712.18" y="196.84" width="2.9" height="15.89" fill="#200004" fill-opacity="0.75"/>
<rect x="712.83" y="197.54" width="1.6" height="14.49" fill="#f2eeee"/>
<rect x="714.77" y="193.07" width="2.9" height="21.32" fill="#200004" fill-opacity="0.75"/>
<rect x="715.42" y="193.77" width="1.6" height="19.92" fill="#2bbcd2"/>
<rect x="717.35" y="189.15" width="2.9" height="36.64" fill="#200004" fill-opacity="0.75"/>
<rect x="718.00" y="189.85" width="1.6" height="35.24" fill="#2bbcd2"/>
<rect x="719.94" y="212.54" width="2.9" height="15.83" fill="#200004" fill-opacity="0.75"/>
<rect x="720.59" y="213.24" width="1.6" height="14.43" fill="#2bbcd2"/>
<rect x="722.53" y="207.64" width="2.9" height="33.31" fill="#200004" fill-opacity="0.75"/>
<rect x="723.18" y="208.34" width="1.6" height="31.91" fill="#2bbcd2"/>
<rect x="725.11" y="228.77" width="2.9" height="14.25" fill="#200004" fill-opacity="0.75"/>
<rect x="725.76" y="229.47" width="1.6" height="12.85" fill="#2bbcd2"/>
<rect x="727.70" y="238.95" width="2.9" height="67.49" fill="#200004" fill-opacity="0.75"/>
<rect x="728.35" y="239.65" width="1.6" height="66.09" fill="#2bbcd2"/>
<rect x="730.29" y="288.38" width="2.9" height="18.69" fill="#200004" fill-opacity="0.75"/>
<rect x="730.94" y="289.08" width="1.6" height="17.29" fill="#f2eeee"/>
<rect x="732.87" y="276.37" width="2.9" height="21.86" fill="#200004" fill-opacity="0.75"/>
<rect x="733.52" y="277.07" width="1.6" height="20.46" fill="#f2eeee"/>
<rect x="735.46" y="284.10" width="2.9" height="19.26" fill="#200004" fill-opacity="0.75"/>
<rect x="736.11" y="284.80" width="1.6" height="17.86" fill="#2bbcd2"/>
<rect x="738.04" y="279.60" width="2.9" height="24.73" fill="#200004" fill-opacity="0.75"/>
<rect x="738.69" y="280.30" width="1.6" height="23.33" fill="#f2eeee"/>
<rect x="740.63" y="273.63" width="2.9" height="22.02" fill="#200004" fill-opacity="0.75"/>
<rect x="741.28" y="274.33" width="1.6" height="20.62" fill="#2bbcd2"/>
<rect x="743.22" y="275.85" width="2.9" height="15.53" fill="#200004" fill-opacity="0.75"/>
<rect x="743.87" y="276.55" width="1.6" height="14.13" fill="#f2eeee"/>
<rect x="745.80" y="274.01" width="2.9" height="52.27" fill="#200004" fill-opacity="0.75"/>
<rect x="746.45" y="274.71" width="1.6" height="50.87" fill="#2bbcd2"/>
<rect x="748.39" y="315.96" width="2.9" height="19.55" fill="#200004" fill-opacity="0.75"/>
<rect x="749.04" y="316.66" width="1.6" height="18.15" fill="#2bbcd2"/>
<rect x="750.98" y="323.83" width="2.9" height="20.22" fill="#200004" fill-opacity="0.75"/>
<rect x="751.63" y="324.53" width="1.6" height="18.82" fill="#2bbcd2"/>
<rect x="753.56" y="315.23" width="2.9" height="28.21" fill="#200004" fill-opacity="0.75"/>
<rect x="754.21" y="315.93" width="1.6" height="26.81" fill="#f2eeee"/>
<rect x="756.15" y="311.04" width="2.9" height="32.40" fill="#200004" fill-opacity="0.75"/>
<rect x="756.80" y="311.74" width="1.6" height="31.00" fill="#2bbcd2"/>
<rect x="758.73" y="313.56" width="2.9" height="22.01" fill="#200004" fill-opacity="0.75"/>
<rect x="759.38" y="314.26" width="1.6" height="20.61" fill="#f2eeee"/>
<rect x="761.32" y="321.87" width="2.9" height="20.80" fill="#200004" fill-opacity="0.75"/>
<rect x="761.97" y="322.57" width="1.6" height="19.40" fill="#f2eeee"/>
<rect x="763.91" y="314.88" width="2.9" height="22.06" fill="#200004" fill-opacity="0.75"/>
<rect x="764.56" y="315.58" width="1.6" height="20.66" fill="#2bbcd2"/>
<rect x="766.49" y="326.43" width="2.9" height="13.61" fill="#200004" fill-opacity="0.75"/>
<rect x="767.14" y="327.13" width="1.6" height="12.21" fill="#2bbcd2"/>
<rect x="769.08" y="327.33" width="2.9" height="14.27" fill="#200004" fill-opacity="0.75"/>
<rect x="769.73" y="328.03" width="1.6" height="12.87" fill="#f2eeee"/>
<rect x="771.67" y="326.40" width="2.9" height="14.10" fill="#200004" fill-opacity="0.75"/>
<rect x="772.32" y="327.10" width="1.6" height="12.70" fill="#2bbcd2"/>
<rect x="774.25" y="322.73" width="2.9" height="49.16" fill="#200004" fill-opacity="0.75"/>
<rect x="774.90" y="323.43" width="1.6" height="47.76" fill="#2bbcd2"/>
<rect x="776.84" y="344.41" width="2.9" height="31.52" fill="#200004" fill-opacity="0.75"/>
<rect x="777.49" y="345.11" width="1.6" height="30.12" fill="#f2eeee"/>
<rect x="779.42" y="344.50" width="2.9" height="15.37" fill="#200004" fill-opacity="0.75"/>
<rect x="780.08" y="345.20" width="1.6" height="13.97" fill="#f2eeee"/>
<rect x="782.01" y="284.69" width="2.9" height="66.17" fill="#200004" fill-opacity="0.75"/>
<rect x="782.66" y="285.39" width="1.6" height="64.77" fill="#f2eeee"/>
<rect x="784.60" y="276.37" width="2.9" height="20.67" fill="#200004" fill-opacity="0.75"/>
<rect x="785.25" y="277.07" width="1.6" height="19.27" fill="#f2eeee"/>
<rect x="787.18" y="274.70" width="2.9" height="14.19" fill="#200004" fill-opacity="0.75"/>
<rect x="787.83" y="275.40" width="1.6" height="12.79" fill="#f2eeee"/>
<rect x="789.77" y="257.73" width="2.9" height="27.24" fill="#200004" fill-opacity="0.75"/>
<rect x="790.42" y="258.43" width="1.6" height="25.84" fill="#f2eeee"/>
<rect x="792.36" y="249.46" width="2.9" height="84.23" fill="#200004" fill-opacity="0.75"/>
<rect x="793.01" y="250.16" width="1.6" height="82.83" fill="#2bbcd2"/>
<rect x="794.94" y="312.09" width="2.9" height="28.96" fill="#200004" fill-opacity="0.75"/>
<rect x="795.59" y="312.79" width="1.6" height="27.56" fill="#f2eeee"/>
<rect x="797.53" y="318.26" width="2.9" height="26.50" fill="#200004" fill-opacity="0.75"/>
<rect x="798.18" y="318.96" width="1.6" height="25.10" fill="#2bbcd2"/>
<rect x="800.12" y="331.39" width="2.9" height="18.85" fill="#200004" fill-opacity="0.75"/>
<rect x="800.77" y="332.09" width="1.6" height="17.45" fill="#f2eeee"/>
<rect x="802.70" y="322.35" width="2.9" height="18.15" fill="#200004" fill-opacity="0.75"/>
<rect x="803.35" y="323.05" width="1.6" height="16.75" fill="#f2eeee"/>
<rect x="805.29" y="324.64" width="2.9" height="25.04" fill="#200004" fill-opacity="0.75"/>
<rect x="805.94" y="325.34" width="1.6" height="23.64" fill="#2bbcd2"/>
<rect x="807.87" y="337.57" width="2.9" height="47.44" fill="#200004" fill-opacity="0.75"/>
<rect x="808.52" y="338.27" width="1.6" height="46.04" fill="#f2eeee"/>
<rect x="810.46" y="339.16" width="2.9" height="30.29" fill="#200004" fill-opacity="0.75"/>
<rect x="811.11" y="339.86" width="1.6" height="28.89" fill="#2bbcd2"/>
<rect x="813.05" y="329.37" width="2.9" height="59.17" fill="#200004" fill-opacity="0.75"/>
<rect x="813.70" y="330.07" width="1.6" height="57.77" fill="#2bbcd2"/>
<rect x="815.63" y="343.27" width="2.9" height="37.67" fill="#200004" fill-opacity="0.75"/>
<rect x="816.28" y="343.97" width="1.6" height="36.27" fill="#f2eeee"/>
<rect x="818.22" y="343.58" width="2.9" height="31.67" fill="#200004" fill-opacity="0.75"/>
<rect x="818.87" y="344.28" width="1.6" height="30.27" fill="#2bbcd2"/>
<rect x="820.81" y="349.14" width="2.9" height="15.52" fill="#200004" fill-opacity="0.75"/>
<rect x="821.46" y="349.84" width="1.6" height="14.12" fill="#2bbcd2"/>
<rect x="823.39" y="353.20" width="2.9" height="18.95" fill="#200004" fill-opacity="0.75"/>
<rect x="824.04" y="353.90" width="1.6" height="17.55" fill="#2bbcd2"/>
<rect x="825.98" y="348.96" width="2.9" height="21.49" fill="#200004" fill-opacity="0.75"/>
<rect x="826.63" y="349.66" width="1.6" height="20.09" fill="#f2eeee"/>
<rect x="828.56" y="316.64" width="2.9" height="49.46" fill="#200004" fill-opacity="0.75"/>
<rect x="829.21" y="317.34" width="1.6" height="48.06" fill="#2bbcd2"/>
<rect x="831.15" y="334.41" width="2.9" height="42.78" fill="#200004" fill-opacity="0.75"/>
<rect x="831.80" y="335.11" width="1.6" height="41.38" fill="#f2eeee"/>
<rect x="833.74" y="338.82" width="2.9" height="26.41" fill="#200004" fill-opacity="0.75"/>
<rect x="834.39" y="339.52" width="1.6" height="25.01" fill="#f2eeee"/>
<rect x="836.32" y="322.55" width="2.9" height="32.79" fill="#200004" fill-opacity="0.75"/>
<rect x="836.97" y="323.25" width="1.6" height="31.39" fill="#2bbcd2"/>
<rect x="838.91" y="343.76" width="2.9" height="11.46" fill="#200004" fill-opacity="0.75"/>
<rect x="839.56" y="344.46" width="1.6" height="10.06" fill="#2bbcd2"/>
<rect x="841.50" y="346.51" width="2.9" height="16.28" fill="#200004" fill-opacity="0.75"/>
<rect x="842.15" y="347.21" width="1.6" height="14.88" fill="#2bbcd2"/>
<rect x="844.08" y="336.57" width="2.9" height="24.95" fill="#200004" fill-opacity="0.75"/>
<rect x="844.73" y="337.27" width="1.6" height="23.55" fill="#f2eeee"/>
<rect x="846.67" y="314.00" width="2.9" height="27.94" fill="#200004" fill-opacity="0.75"/>
<rect x="847.32" y="314.70" width="1.6" height="26.54" fill="#f2eeee"/>
<rect x="849.26" y="317.23" width="2.9" height="20.41" fill="#200004" fill-opacity="0.75"/>
<rect x="849.91" y="317.93" width="1.6" height="19.01" fill="#2bbcd2"/>
<rect x="851.84" y="314.55" width="2.9" height="19.32" fill="#200004" fill-opacity="0.75"/>
<rect x="852.49" y="315.25" width="1.6" height="17.92" fill="#2bbcd2"/>
<rect x="854.43" y="326.31" width="2.9" height="23.92" fill="#200004" fill-opacity="0.75"/>
<rect x="855.08" y="327.01" width="1.6" height="22.52" fill="#2bbcd2"/>
<rect x="857.01" y="339.71" width="2.9" height="12.67" fill="#200004" fill-opacity="0.75"/>
<rect x="857.66" y="340.41" width="1.6" height="11.27" fill="#2bbcd2"/>
<rect x="859.60" y="341.49" width="2.9" height="8.72" fill="#200004" fill-opacity="0.75"/>
<rect x="860.25" y="342.19" width="1.6" height="7.32" fill="#f2eeee"/>
<rect x="862.19" y="342.50" width="2.9" height="17.00" fill="#200004" fill-opacity="0.75"/>
<rect x="862.84" y="343.20" width="1.6" height="15.60" fill="#2bbcd2"/>
<rect x="864.77" y="350.51" width="2.9" height="14.18" fill="#200004" fill-opacity="0.75"/>
<rect x="865.42" y="351.21" width="1.6" height="12.78" fill="#2bbcd2"/>
<rect x="867.36" y="351.79" width="2.9" height="9.54" fill="#200004" fill-opacity="0.75"/>
<rect x="868.01" y="352.49" width="1.6" height="8.14" fill="#f2eeee"/>
<rect x="869.95" y="342.87" width="2.9" height="43.53" fill="#200004" fill-opacity="0.75"/>
<rect x="870.60" y="343.57" width="1.6" height="42.13" fill="#f2eeee"/>
<rect x="872.53" y="329.55" width="2.9" height="28.43" fill="#200004" fill-opacity="0.75"/>
<rect x="873.18" y="330.25" width="1.6" height="27.03" fill="#2bbcd2"/>
<rect x="875.12" y="351.73" width="2.9" height="9.32" fill="#200004" fill-opacity="0.75"/>
<rect x="875.77" y="352.43" width="1.6" height="7.92" fill="#2bbcd2"/>
<rect x="877.70" y="345.58" width="2.9" height="12.66" fill="#200004" fill-opacity="0.75"/>
<rect x="878.35" y="346.28" width="1.6" height="11.26" fill="#f2eeee"/>
<rect x="880.29" y="337.88" width="2.9" height="17.34" fill="#200004" fill-opacity="0.75"/>
<rect x="880.94" y="338.58" width="1.6" height="15.94" fill="#f2eeee"/>
<rect x="882.88" y="336.96" width="2.9" height="20.27" fill="#200004" fill-opacity="0.75"/>
<rect x="883.53" y="337.66" width="1.6" height="18.87" fill="#2bbcd2"/>
<rect x="885.46" y="347.59" width="2.9" height="10.55" fill="#200004" fill-opacity="0.75"/>
<rect x="886.11" y="348.29" width="1.6" height="9.15" fill="#2bbcd2"/>
<rect x="888.05" y="348.03" width="2.9" height="15.39" fill="#200004" fill-opacity="0.75"/>
<rect x="888.70" y="348.73" width="1.6" height="13.99" fill="#2bbcd2"/>
<rect x="890.64" y="351.01" width="2.9" height="20.40" fill="#200004" fill-opacity="0.75"/>
<rect x="891.29" y="351.71" width="1.6" height="19.00" fill="#f2eeee"/>
<rect x="893.22" y="350.82" width="2.9" height="6.28" fill="#200004" fill-opacity="0.75"/>
<rect x="893.87" y="351.52" width="1.6" height="4.88" fill="#f2eeee"/>
<rect x="895.81" y="337.15" width="2.9" height="20.90" fill="#200004" fill-opacity="0.75"/>
<rect x="896.46" y="337.85" width="1.6" height="19.50" fill="#f2eeee"/>
<rect x="898.39" y="340.17" width="2.9" height="15.15" fill="#200004" fill-opacity="0.75"/>
<rect x="899.04" y="340.87" width="1.6" height="13.75" fill="#2bbcd2"/>
<rect x="900.98" y="315.76" width="2.9" height="36.90" fill="#200004" fill-opacity="0.75"/>
<rect x="901.63" y="316.46" width="1.6" height="35.50" fill="#f2eeee"/>
<rect x="903.57" y="298.23" width="2.9" height="29.60" fill="#200004" fill-opacity="0.75"/>
<rect x="904.22" y="298.93" width="1.6" height="28.20" fill="#f2eeee"/>
<rect x="906.15" y="302.44" width="2.9" height="21.00" fill="#200004" fill-opacity="0.75"/>
<rect x="906.80" y="303.14" width="1.6" height="19.60" fill="#2bbcd2"/>
<rect x="908.74" y="305.99" width="2.9" height="23.49" fill="#200004" fill-opacity="0.75"/>
<rect x="909.39" y="306.69" width="1.6" height="22.09" fill="#f2eeee"/>
<rect x="911.33" y="299.15" width="2.9" height="13.62" fill="#200004" fill-opacity="0.75"/>
<rect x="911.98" y="299.85" width="1.6" height="12.22" fill="#f2eeee"/>
<rect x="913.91" y="300.81" width="2.9" height="13.30" fill="#200004" fill-opacity="0.75"/>
<rect x="914.56" y="301.51" width="1.6" height="11.90" fill="#2bbcd2"/>
<rect x="916.50" y="303.39" width="2.9" height="19.02" fill="#200004" fill-opacity="0.75"/>
<rect x="917.15" y="304.09" width="1.6" height="17.62" fill="#2bbcd2"/>
<rect x="919.09" y="307.44" width="2.9" height="11.69" fill="#200004" fill-opacity="0.75"/>
<rect x="919.74" y="308.14" width="1.6" height="10.29" fill="#2bbcd2"/>
<rect x="921.67" y="304.55" width="2.9" height="23.43" fill="#200004" fill-opacity="0.75"/>
<rect x="922.32" y="305.25" width="1.6" height="22.03" fill="#2bbcd2"/>
<rect x="924.26" y="316.40" width="2.9" height="12.12" fill="#200004" fill-opacity="0.75"/>
<rect x="924.91" y="317.10" width="1.6" height="10.72" fill="#f2eeee"/>
<rect x="926.84" y="290.24" width="2.9" height="33.87" fill="#200004" fill-opacity="0.75"/>
<rect x="927.49" y="290.94" width="1.6" height="32.47" fill="#f2eeee"/>
<rect x="929.43" y="285.25" width="2.9" height="12.68" fill="#200004" fill-opacity="0.75"/>
<rect x="930.08" y="285.95" width="1.6" height="11.28" fill="#f2eeee"/>
<rect x="932.02" y="288.47" width="2.9" height="15.18" fill="#200004" fill-opacity="0.75"/>
<rect x="932.67" y="289.17" width="1.6" height="13.78" fill="#2bbcd2"/>
<rect x="934.60" y="296.84" width="2.9" height="21.23" fill="#200004" fill-opacity="0.75"/>
<rect x="935.25" y="297.54" width="1.6" height="19.83" fill="#2bbcd2"/>
<rect x="937.19" y="308.37" width="2.9" height="112.76" fill="#200004" fill-opacity="0.75"/>
<rect x="937.84" y="309.07" width="1.6" height="111.36" fill="#2bbcd2"/>
<rect x="939.78" y="372.04" width="2.9" height="106.98" fill="#200004" fill-opacity="0.75"/>
<rect x="940.43" y="372.74" width="1.6" height="105.58" fill="#2bbcd2"/>
<rect x="942.36" y="386.15" width="2.9" height="86.47" fill="#200004" fill-opacity="0.75"/>
<rect x="943.01" y="386.85" width="1.6" height="85.07" fill="#f2eeee"/>
<rect x="944.95" y="403.08" width="2.9" height="46.90" fill="#200004" fill-opacity="0.75"/>
<rect x="945.60" y="403.78" width="1.6" height="45.50" fill="#2bbcd2"/>
<rect x="947.53" y="423.86" width="2.9" height="20.24" fill="#200004" fill-opacity="0.75"/>
<rect x="948.18" y="424.56" width="1.6" height="18.84" fill="#2bbcd2"/>
<rect x="950.12" y="428.42" width="2.9" height="26.42" fill="#200004" fill-opacity="0.75"/>
<rect x="950.77" y="429.12" width="1.6" height="25.02" fill="#2bbcd2"/>
<rect x="952.71" y="418.92" width="2.9" height="51.42" fill="#200004" fill-opacity="0.75"/>
<rect x="953.36" y="419.62" width="1.6" height="50.02" fill="#f2eeee"/>
<rect x="955.29" y="420.88" width="2.9" height="23.04" fill="#200004" fill-opacity="0.75"/>
<rect x="955.94" y="421.58" width="1.6" height="21.64" fill="#f2eeee"/>
<rect x="957.88" y="425.06" width="2.9" height="24.29" fill="#200004" fill-opacity="0.75"/>
<rect x="958.53" y="425.76" width="1.6" height="22.89" fill="#2bbcd2"/>
<rect x="960.47" y="434.52" width="2.9" height="14.07" fill="#200004" fill-opacity="0.75"/>
<rect x="961.12" y="435.22" width="1.6" height="12.67" fill="#f2eeee"/>
<rect x="963.05" y="421.76" width="2.9" height="21.08" fill="#200004" fill-opacity="0.75"/>
<rect x="963.70" y="422.46" width="1.6" height="19.68" fill="#f2eeee"/>
<rect x="965.64" y="431.98" width="2.9" height="11.07" fill="#200004" fill-opacity="0.75"/>
<rect x="966.29" y="432.68" width="1.6" height="9.67" fill="#2bbcd2"/>
<rect x="968.22" y="435.38" width="2.9" height="22.02" fill="#200004" fill-opacity="0.75"/>
<rect x="968.87" y="436.08" width="1.6" height="20.62" fill="#2bbcd2"/>
<rect x="970.81" y="452.40" width="2.9" height="30.94" fill="#200004" fill-opacity="0.75"/>
<rect x="971.46" y="453.10" width="1.6" height="29.54" fill="#2bbcd2"/>
<rect x="973.40" y="450.82" width="2.9" height="28.08" fill="#200004" fill-opacity="0.75"/>
<rect x="974.05" y="451.52" width="1.6" height="26.68" fill="#f2eeee"/>
<rect x="975.98" y="437.10" width="2.9" height="20.15" fill="#200004" fill-opacity="0.75"/>
<rect x="976.63" y="437.80" width="1.6" height="18.75" fill="#f2eeee"/>
<rect x="978.57" y="432.30" width="2.9" height="14.10" fill="#200004" fill-opacity="0.75"/>
<rect x="979.22" y="433.00" width="1.6" height="12.70" fill="#2bbcd2"/>
<rect x="981.16" y="439.88" width="2.9" height="11.53" fill="#200004" fill-opacity="0.75"/>
<rect x="981.81" y="440.58" width="1.6" height="10.13" fill="#2bbcd2"/>
<rect x="983.74" y="436.27" width="2.9" height="12.28" fill="#200004" fill-opacity="0.75"/>
<rect x="984.39" y="436.97" width="1.6" height="10.88" fill="#2bbcd2"/>
<rect x="986.33" y="439.88" width="2.9" height="8.67" fill="#200004" fill-opacity="0.75"/>
<rect x="986.98" y="440.58" width="1.6" height="7.27" fill="#2bbcd2"/>
<rect x="988.92" y="444.12" width="2.9" height="19.17" fill="#200004" fill-opacity="0.75"/>
<rect x="989.57" y="444.82" width="1.6" height="17.77" fill="#2bbcd2"/>
<rect x="991.50" y="441.69" width="2.9" height="18.13" fill="#200004" fill-opacity="0.75"/>
<rect x="992.15" y="442.39" width="1.6" height="16.73" fill="#f2eeee"/>
<rect x="994.09" y="416.83" width="2.9" height="30.69" fill="#200004" fill-opacity="0.75"/>
<rect x="994.74" y="417.53" width="1.6" height="29.29" fill="#f2eeee"/>
<rect x="996.67" y="414.40" width="2.9" height="17.91" fill="#200004" fill-opacity="0.75"/>
<rect x="997.32" y="415.10" width="1.6" height="16.51" fill="#2bbcd2"/>
<rect x="999.26" y="421.90" width="2.9" height="12.66" fill="#200004" fill-opacity="0.75"/>
<rect x="999.91" y="422.60" width="1.6" height="11.26" fill="#f2eeee"/>
<rect x="1001.85" y="420.04" width="2.9" height="12.09" fill="#200004" fill-opacity="0.75"/>
<rect x="1002.50" y="420.74" width="1.6" height="10.69" fill="#2bbcd2"/>
<rect x="1004.43" y="418.47" width="2.9" height="12.84" fill="#200004" fill-opacity="0.75"/>
<rect x="1005.08" y="419.17" width="1.6" height="11.44" fill="#f2eeee"/>
<rect x="1007.02" y="410.81" width="2.9" height="20.89" fill="#200004" fill-opacity="0.75"/>
<rect x="1007.67" y="411.51" width="1.6" height="19.49" fill="#2bbcd2"/>
<rect x="1009.61" y="421.83" width="2.9" height="8.49" fill="#200004" fill-opacity="0.75"/>
<rect x="1010.26" y="422.53" width="1.6" height="7.09" fill="#f2eeee"/>
<rect x="1012.19" y="420.60" width="2.9" height="17.83" fill="#200004" fill-opacity="0.75"/>
<rect x="1012.84" y="421.30" width="1.6" height="16.43" fill="#2bbcd2"/>
<rect x="1014.78" y="415.09" width="2.9" height="21.39" fill="#200004" fill-opacity="0.75"/>
<rect x="1015.43" y="415.79" width="1.6" height="19.99" fill="#f2eeee"/>
<rect x="1017.36" y="413.19" width="2.9" height="11.69" fill="#200004" fill-opacity="0.75"/>
<rect x="1018.01" y="413.89" width="1.6" height="10.29" fill="#2bbcd2"/>
<rect x="1019.95" y="417.63" width="2.9" height="6.30" fill="#200004" fill-opacity="0.75"/>
<rect x="1020.60" y="418.33" width="1.6" height="4.90" fill="#f2eeee"/>
<rect x="1022.54" y="416.10" width="2.9" height="8.39" fill="#200004" fill-opacity="0.75"/>
<rect x="1023.19" y="416.80" width="1.6" height="6.99" fill="#2bbcd2"/>
<rect x="1025.12" y="417.14" width="2.9" height="14.38" fill="#200004" fill-opacity="0.75"/>
<rect x="1025.77" y="417.84" width="1.6" height="12.98" fill="#f2eeee"/>
<rect x="1027.71" y="392.96" width="2.9" height="31.17" fill="#200004" fill-opacity="0.75"/>
<rect x="1028.36" y="393.66" width="1.6" height="29.77" fill="#f2eeee"/>
<rect x="1030.30" y="378.53" width="2.9" height="25.61" fill="#200004" fill-opacity="0.75"/>
<rect x="1030.95" y="379.23" width="1.6" height="24.21" fill="#f2eeee"/>
<rect x="1032.88" y="396.45" width="2.9" height="20.91" fill="#200004" fill-opacity="0.75"/>
<rect x="1033.53" y="397.15" width="1.6" height="19.51" fill="#2bbcd2"/>
<rect x="1035.47" y="407.14" width="2.9" height="36.79" fill="#200004" fill-opacity="0.75"/>
<rect x="1036.12" y="407.84" width="1.6" height="35.39" fill="#2bbcd2"/>
<rect x="1038.06" y="432.83" width="2.9" height="8.99" fill="#200004" fill-opacity="0.75"/>
<rect x="1038.71" y="433.53" width="1.6" height="7.59" fill="#f2eeee"/>
<rect x="1040.64" y="430.45" width="2.9" height="8.56" fill="#200004" fill-opacity="0.75"/>
<rect x="1041.29" y="431.15" width="1.6" height="7.16" fill="#2bbcd2"/>
<rect x="1043.23" y="432.12" width="2.9" height="21.72" fill="#200004" fill-opacity="0.75"/>
<rect x="1043.88" y="432.82" width="1.6" height="20.32" fill="#2bbcd2"/>
<rect x="1045.81" y="423.44" width="2.9" height="25.18" fill="#200004" fill-opacity="0.75"/>
<rect x="1046.46" y="424.14" width="1.6" height="23.78" fill="#f2eeee"/>
<rect x="1048.40" y="428.31" width="2.9" height="8.21" fill="#200004" fill-opacity="0.75"/>
<rect x="1049.05" y="429.01" width="1.6" height="6.81" fill="#2bbcd2"/>
<rect x="1050.99" y="430.27" width="2.9" height="12.46" fill="#200004" fill-opacity="0.75"/>
<rect x="1051.64" y="430.97" width="1.6" height="11.06" fill="#2bbcd2"/>
<rect x="1053.57" y="427.25" width="2.9" height="8.70" fill="#200004" fill-opacity="0.75"/>
<rect x="1054.22" y="427.95" width="1.6" height="7.30" fill="#2bbcd2"/>
<rect x="1056.16" y="430.23" width="2.9" height="4.82" fill="#200004" fill-opacity="0.75"/>
<rect x="1056.81" y="430.93" width="1.6" height="3.42" fill="#f2eeee"/>
<rect x="1058.75" y="430.41" width="2.9" height="6.01" fill="#200004" fill-opacity="0.75"/>
<rect x="1059.40" y="431.11" width="1.6" height="4.61" fill="#2bbcd2"/>
<rect x="1061.33" y="427.75" width="2.9" height="7.02" fill="#200004" fill-opacity="0.75"/>
<rect x="1061.98" y="428.45" width="1.6" height="5.62" fill="#f2eeee"/>
<rect x="1063.92" y="426.58" width="2.9" height="14.99" fill="#200004" fill-opacity="0.75"/>
<rect x="1064.57" y="427.28" width="1.6" height="13.59" fill="#2bbcd2"/>
<rect x="1066.50" y="434.30" width="2.9" height="8.42" fill="#200004" fill-opacity="0.75"/>
<rect x="1067.15" y="435.00" width="1.6" height="7.02" fill="#2bbcd2"/>
<polyline fill="none" stroke="#185a1a" stroke-width="1.15" stroke-linejoin="round" points="367.1,-174.6 369.7,-173.7 372.2,-174.2 374.8,-175.0 377.4,-173.4 380.0,-166.9 382.6,-162.1 385.2,-155.4 387.8,-150.8 390.3,-145.7 392.9,-135.2 395.5,-127.7 398.1,-123.9 400.7,-117.8 403.3,-114.1 405.9,-110.7 408.4,-106.1 411.0,-105.0 413.6,-105.7 416.2,-106.0 418.8,-104.2 421.4,-100.7 424.0,-97.2 426.6,-94.2 429.1,-94.1 431.7,-88.2 434.3,-86.1 436.9,-85.7 439.5,-82.4 442.1,-77.2 444.7,-74.9 447.2,-73.2 449.8,-69.7 452.4,-71.9 455.0,-65.6 457.6,-58.9 460.2,-51.8 462.8,-42.0 465.3,-22.7 467.9,-8.9 470.5,8.5 473.1,23.5 475.7,35.6 478.3,43.4 480.9,46.0 483.5,52.8 486.0,56.8 488.6,65.6 491.2,67.9 493.8,73.4 496.4,77.2 499.0,77.5 501.6,81.8 504.1,83.6 506.7,85.4 509.3,88.1 511.9,92.3 514.5,94.4 517.1,94.7 519.7,87.3 522.2,81.0 524.8,82.4 527.4,81.4 530.0,83.1 532.6,84.0 535.2,84.5 537.8,80.1 540.3,77.3 542.9,78.0 545.5,78.9 548.1,83.0 550.7,88.6 553.3,99.7 555.9,123.4 558.5,145.2 561.0,162.3 563.6,185.4 566.2,205.2 568.8,228.4 571.4,241.5 574.0,252.7 576.6,261.5 579.1,272.2 581.7,276.2 584.3,278.9 586.9,280.0 589.5,283.1 592.1,287.0 594.7,292.4 597.2,297.7 599.8,303.1 602.4,310.9 605.0,317.6 607.6,322.9 610.2,322.7 612.8,322.8 615.4,321.1 617.9,314.3 620.5,308.3 623.1,304.0 625.7,303.9 628.3,308.1 630.9,314.8 633.5,315.8 636.0,315.1 638.6,313.3 641.2,310.0 643.8,309.2 646.4,300.7 649.0,289.2 651.6,280.6 654.1,273.8 656.7,270.3 659.3,268.5 661.9,266.4 664.5,270.4 667.1,274.0 669.7,269.2 672.3,261.3 674.8,255.1 677.4,250.6 680.0,248.4 682.6,246.6 685.2,246.4 687.8,246.9 690.4,248.2 692.9,246.3 695.5,246.3 698.1,245.3 700.7,241.7 703.3,241.6 705.9,238.0 708.5,235.2 711.0,230.8 713.6,227.0 716.2,224.5 718.8,223.2 721.4,223.2 724.0,225.3 726.6,227.7 729.1,239.8 731.7,248.8 734.3,254.6 736.9,260.1 739.5,264.1 742.1,268.2 744.7,270.8 747.3,278.9 749.8,286.8 752.4,295.7 755.0,299.7 757.6,305.4 760.2,309.0 762.8,311.6 765.4,314.6 767.9,317.7 770.5,319.6 773.1,322.1 775.7,329.0 778.3,332.5 780.9,335.3 783.5,327.2 786.0,319.2 788.6,312.1 791.2,303.4 793.8,306.7 796.4,309.2 799.0,313.9 801.6,317.3 804.2,318.6 806.7,323.2 809.3,326.4 811.9,332.4 814.5,339.5 817.1,340.7 819.7,342.3 822.3,345.4 824.8,348.8 827.4,349.4 830.0,350.7 832.6,350.0 835.2,348.5 837.8,348.2 840.4,348.4 842.9,350.0 845.5,348.3 848.1,343.3 850.7,340.0 853.3,338.4 855.9,339.1 858.5,340.4 861.1,341.2 863.6,343.5 866.2,345.9 868.8,347.3 871.4,347.4 874.0,348.4 876.6,349.9 879.2,350.1 881.7,348.8 884.3,348.9 886.9,349.9 889.5,351.2 892.1,351.7 894.7,351.9 897.3,350.3 899.8,350.0 902.4,345.9 905.0,339.1 907.6,335.9 910.2,331.7 912.8,327.1 915.4,324.3 917.9,322.6 920.5,321.2 923.1,321.7 925.7,321.8 928.3,317.3 930.9,312.8 933.5,311.1 936.1,311.1 938.6,321.2 941.2,343.2 943.8,353.2 946.4,364.6 949.0,375.5 951.6,387.4 954.2,395.8 956.7,401.3 959.3,407.4 961.9,412.3 964.5,416.4 967.1,420.1 969.7,425.9 972.3,433.2 974.8,436.8 977.4,437.4 980.0,437.9 982.6,438.8 985.2,440.0 987.8,441.1 990.4,443.3 993.0,443.8 995.5,439.9 998.1,437.7 1000.7,435.3 1003.3,434.4 1005.9,432.4 1008.5,431.6 1011.1,430.2 1013.6,430.5 1016.2,428.5 1018.8,427.4 1021.4,426.4 1024.0,425.9 1026.6,424.7 1029.2,420.5 1031.7,416.8 1034.3,416.3 1036.9,420.1 1039.5,422.4 1042.1,424.6 1044.7,428.2 1047.3,428.5 1049.9,429.1 1052.4,429.7 1055.0,430.5 1057.6,430.7 1060.2,431.0 1062.8,430.7 1065.4,431.7 1068.0,432.8"/>
<polyline fill="none" stroke="#aa1c1c" stroke-width="1.3" stroke-linejoin="round" points="367.1,-174.6 369.7,-174.1 372.2,-174.4 374.8,-174.8 377.4,-173.9 380.0,-170.4 382.6,-167.4 385.2,-163.3 387.8,-160.1 390.3,-156.5 392.9,-150.0 395.5,-144.7 398.1,-141.1 400.7,-136.3 403.3,-132.7 405.9,-129.2 408.4,-125.2 411.0,-122.9 413.6,-121.6 416.2,-120.4 418.8,-118.1 421.4,-115.0 424.0,-111.8 426.6,-108.9 429.1,-107.6 431.7,-103.2 434.3,-100.8 436.9,-99.2 439.5,-96.2 442.1,-92.2 444.7,-89.7 447.2,-87.4 449.8,-84.3 452.4,-84.1 455.0,-79.6 457.6,-74.8 460.2,-69.6 462.8,-62.8 465.3,-50.9 467.9,-41.2 470.5,-29.4 473.1,-18.3 475.7,-8.5 478.3,-0.6 480.9,4.6 483.5,11.7 486.0,17.4 488.6,25.4 491.2,30.1 493.8,36.2 496.4,41.5 499.0,44.8 501.6,49.9 504.1,53.7 506.7,57.3 509.3,61.2 511.9,65.8 514.5,69.3 517.1,71.7 519.7,69.8 522.2,68.0 524.8,70.0 527.4,70.5 530.0,72.4 532.6,73.8 535.2,75.0 537.8,73.5 540.3,72.6 542.9,73.4 545.5,74.3 548.1,76.9 550.7,80.5 553.3,87.2 555.9,100.9 558.5,114.3 561.0,125.9 563.6,140.9 566.2,154.8 568.8,170.9 571.4,182.4 574.0,193.1 576.6,202.6 579.1,213.1 581.7,220.2 584.3,226.4 586.9,231.6 589.5,237.4 592.1,243.4 594.7,250.0 597.2,256.4 599.8,262.8 602.4,270.4 605.0,277.3 607.6,283.6 610.2,287.0 612.8,290.2 615.4,292.2 617.9,291.2 620.5,290.1 623.1,289.4 625.7,290.7 628.3,294.1 630.9,298.9 633.5,300.9 636.0,301.9 638.6,302.1 641.2,301.4 643.8,301.7 646.4,297.8 649.0,291.8 651.6,286.8 654.1,282.5 656.7,279.7 659.3,277.9 661.9,275.8 664.5,277.2 667.1,278.5 669.7,275.5 672.3,270.6 674.8,266.3 677.4,262.8 680.0,260.4 682.6,258.3 685.2,257.1 687.8,256.4 690.4,256.3 692.9,254.5 695.5,253.7 698.1,252.5 700.7,249.9 703.3,249.1 705.9,246.4 708.5,244.1 711.0,240.8 713.6,237.8 716.2,235.4 718.8,233.7 721.4,232.7 724.0,233.0 726.6,233.7 729.1,239.7 731.7,244.6 734.3,248.2 736.9,251.7 739.5,254.6 742.1,257.7 744.7,260.0 747.3,265.3 749.8,270.7 752.4,276.9 755.0,280.7 757.6,285.4 760.2,289.1 762.8,292.3 765.4,295.6 767.9,299.0 770.5,301.6 773.1,304.5 775.7,309.8 778.3,313.4 780.9,316.5 783.5,313.9 786.0,310.8 788.6,307.7 791.2,303.4 793.8,305.2 796.4,306.7 799.0,309.5 801.6,311.7 804.2,313.0 806.7,315.9 809.3,318.3 811.9,322.3 814.5,327.0 817.1,328.7 819.7,330.7 822.3,333.4 824.8,336.3 827.4,337.7 830.0,339.5 832.6,340.1 835.2,340.2 837.8,340.8 840.4,341.6 842.9,343.0 845.5,342.8 848.1,340.5 850.7,339.0 853.3,338.2 855.9,338.6 858.5,339.3 861.1,339.9 863.6,341.3 866.2,342.8 868.8,343.8 871.4,344.2 874.0,345.0 876.6,346.2 879.2,346.6 881.7,346.2 884.3,346.5 886.9,347.3 889.5,348.2 892.1,348.8 894.7,349.2 897.3,348.5 899.8,348.5 902.4,346.4 905.0,342.6 907.6,340.6 910.2,337.8 912.8,334.8 915.4,332.5 917.9,330.8 920.5,329.3 923.1,328.8 925.7,328.2 928.3,325.1 930.9,322.0 933.5,320.1 936.1,319.3 938.6,324.1 941.2,335.8 943.8,341.8 946.4,349.0 949.0,356.2 951.6,364.1 954.2,370.6 956.7,375.8 959.3,381.2 961.9,386.1 964.5,390.6 967.1,394.9 969.7,400.1 972.3,406.2 974.8,410.5 977.4,413.2 980.0,415.6 982.6,418.1 985.2,420.5 987.8,422.9 990.4,425.7 993.0,427.6 995.5,426.9 998.1,426.9 1000.7,426.6 1003.3,426.9 1005.9,426.5 1008.5,426.6 1011.1,426.3 1013.6,426.8 1016.2,426.0 1018.8,425.7 1021.4,425.3 1024.0,425.1 1026.6,424.6 1029.2,422.2 1031.7,420.1 1034.3,419.5 1036.9,421.3 1039.5,422.4 1042.1,423.6 1044.7,425.7 1047.3,426.0 1049.9,426.6 1052.4,427.2 1055.0,427.8 1057.6,428.2 1060.2,428.6 1062.8,428.6 1065.4,429.3 1068.0,430.2"/>
<path d="M642,286.4h12v3.4h-12z M646.3,282h3.4v12h-3.4z" fill="#3d8fbf" fill-opacity="0.85"/>
<path d="M724,245.4h12v3.4h-12z M728.3,241h3.4v12h-3.4z" fill="#3d8fbf" fill-opacity="0.85"/>
<path d="M896,342.4h12v3.4h-12z M900.3,338h3.4v12h-3.4z" fill="#3d8fbf" fill-opacity="0.85"/>
<path d="M935,340.4h12v3.4h-12z M939.3,336h3.4v12h-3.4z" fill="#3d8fbf" fill-opacity="0.85"/>
<path d="M1033,418.4h12v3.4h-12z M1037.3,414h3.4v12h-3.4z" fill="#3d8fbf" fill-opacity="0.85"/>
<rect x="1027.3" y="413" width="3.4" height="12" fill="#3d8fbf" fill-opacity="0.85"/>
<polyline fill="none" stroke="#7fbf77" stroke-width="2.2" stroke-opacity="0.85" points="996,425 983,429"/>
<polyline fill="none" stroke="#ee5f78" stroke-width="2.2" points="983,430 997,434.5 1001,431"/>
<polyline fill="none" stroke="#7fbf77" stroke-width="2.2" stroke-opacity="0.85" points="997,434 1002,440"/>
<rect x="988.5" y="451" width="1.5" height="4" fill="#e0b030"/>
</g>
<rect x="1513" y="30" width="75" height="746" fill="#000"/>
<rect x="96" y="746" width="1417" height="30" fill="#000"/>
<rect x="1512" y="30" width="1" height="746" fill="#2b2b2f"/>
<rect x="96" y="775" width="1493" height="1" fill="#1a1b1f"/>
<rect x="1588" y="30" width="1" height="746" fill="#1a1b1f"/>
<rect x="1513" y="30" width="75" height="1" fill="#161618"/>
<rect x="96" y="745" width="1492" height="1" fill="#2b2b2f"/>
<text x="1523.70" y="49.00" font-size="12.5" fill="#b2b5be" textLength="29.62" lengthAdjust="spacingAndGlyphs" stroke="#b2b5be" stroke-width="0.3">USDT</text>
<text x="1523.80" y="89.70" font-size="12.5" fill="#b2b5be" textLength="52.31" lengthAdjust="spacingAndGlyphs" stroke="#b2b5be" stroke-width="0.3">30000.00</text>
<text x="1523.80" y="130.60" font-size="12.5" fill="#b2b5be" textLength="52.31" lengthAdjust="spacingAndGlyphs" stroke="#b2b5be" stroke-width="0.3">28000.00</text>
<text x="1523.80" y="175.70" font-size="12.5" fill="#b2b5be" textLength="52.31" lengthAdjust="spacingAndGlyphs" stroke="#b2b5be" stroke-width="0.3">26000.00</text>
<text x="1523.80" y="223.70" font-size="12.5" fill="#b2b5be" textLength="52.31" lengthAdjust="spacingAndGlyphs" stroke="#b2b5be" stroke-width="0.3">24000.00</text>
<text x="1523.80" y="274.80" font-size="12.5" fill="#b2b5be" textLength="52.31" lengthAdjust="spacingAndGlyphs" stroke="#b2b5be" stroke-width="0.3">22000.00</text>
<text x="1523.80" y="332.70" font-size="12.5" fill="#b2b5be" textLength="52.31" lengthAdjust="spacingAndGlyphs" stroke="#b2b5be" stroke-width="0.3">20000.00</text>
<text x="1523.80" y="379.90" font-size="12.5" fill="#b2b5be" textLength="52.31" lengthAdjust="spacingAndGlyphs" stroke="#b2b5be" stroke-width="0.3">18500.00</text>
<text x="1523.80" y="419.70" font-size="12.5" fill="#b2b5be" textLength="52.31" lengthAdjust="spacingAndGlyphs" stroke="#b2b5be" stroke-width="0.3">17300.00</text>
<text x="1523.80" y="509.20" font-size="12.5" fill="#b2b5be" textLength="52.31" lengthAdjust="spacingAndGlyphs" stroke="#b2b5be" stroke-width="0.3">14900.00</text>
<text x="1523.80" y="551.20" font-size="12.5" fill="#b2b5be" textLength="52.31" lengthAdjust="spacingAndGlyphs" stroke="#b2b5be" stroke-width="0.3">13900.00</text>
<text x="1523.80" y="585.70" font-size="12.5" fill="#b2b5be" textLength="52.31" lengthAdjust="spacingAndGlyphs" stroke="#b2b5be" stroke-width="0.3">13100.00</text>
<text x="1523.80" y="623.70" font-size="12.5" fill="#b2b5be" textLength="52.31" lengthAdjust="spacingAndGlyphs" stroke="#b2b5be" stroke-width="0.3">12300.00</text>
<text x="1523.80" y="664.20" font-size="12.5" fill="#b2b5be" textLength="52.25" lengthAdjust="spacingAndGlyphs" stroke="#b2b5be" stroke-width="0.3">11500.00</text>
<text x="1523.80" y="702.20" font-size="12.5" fill="#b2b5be" textLength="52.31" lengthAdjust="spacingAndGlyphs" stroke="#b2b5be" stroke-width="0.3">10800.00</text>
<text x="1523.80" y="736.80" font-size="12.5" fill="#b2b5be" textLength="52.31" lengthAdjust="spacingAndGlyphs" stroke="#b2b5be" stroke-width="0.3">10200.00</text>
<text x="118.10" y="765.60" font-size="14.8" fill="#b2b5be" font-weight="bold" textLength="30.76" lengthAdjust="spacingAndGlyphs">2022</text>
<text x="275.10" y="765.40" font-size="13.4" fill="#b2b5be" textLength="21.33" lengthAdjust="spacingAndGlyphs" stroke="#b2b5be" stroke-width="0.3">Mar</text>
<text x="432.50" y="765.40" font-size="13.4" fill="#b2b5be" textLength="22.99" lengthAdjust="spacingAndGlyphs" stroke="#b2b5be" stroke-width="0.3">May</text>
<text x="593.50" y="765.40" font-size="13.4" fill="#b2b5be" textLength="16.48" lengthAdjust="spacingAndGlyphs" stroke="#b2b5be" stroke-width="0.3">Jul</text>
<text x="752.00" y="765.40" font-size="13.4" fill="#b2b5be" textLength="20.99" lengthAdjust="spacingAndGlyphs" stroke="#b2b5be" stroke-width="0.3">Sep</text>
<text x="909.70" y="765.40" font-size="13.4" fill="#b2b5be" textLength="20.88" lengthAdjust="spacingAndGlyphs" stroke="#b2b5be" stroke-width="0.3">Nov</text>
<text x="1063.00" y="765.60" font-size="14.8" fill="#b2b5be" font-weight="bold" textLength="30.06" lengthAdjust="spacingAndGlyphs">2023</text>
<text x="1220.00" y="765.40" font-size="13.4" fill="#b2b5be" textLength="21.02" lengthAdjust="spacingAndGlyphs" stroke="#b2b5be" stroke-width="0.3">Mar</text>
<text x="1376.80" y="765.40" font-size="13.4" fill="#b2b5be" textLength="22.89" lengthAdjust="spacingAndGlyphs" stroke="#b2b5be" stroke-width="0.3">May</text>
<path d="M1512,428h69a3,3 0 0 1 3,3v28.3a3,3 0 0 1 -3,3h-69z" fill="#26c6da"/>
<text x="1525.00" y="442.20" font-size="12.5" fill="#0f2a33" textLength="51.51" lengthAdjust="spacingAndGlyphs">16659.37</text>
<text x="1524.50" y="456.80" font-size="12.5" fill="#0f2a33" textLength="49.73" lengthAdjust="spacingAndGlyphs">09:42:22</text>
<text x="901.00" y="154.50" font-size="14.3" fill="#fff" font-weight="bold" textLength="258.91" lengthAdjust="spacingAndGlyphs" stroke="#000" stroke-width="1.6" stroke-opacity="0.55" paint-order="stroke">This becomes a distribution range if there</text>
<text x="901.50" y="167.50" font-size="14.3" fill="#fff" font-weight="bold" textLength="212.86" lengthAdjust="spacingAndGlyphs" stroke="#000" stroke-width="1.6" stroke-opacity="0.55" paint-order="stroke">are 2 candle closes below $37,600</text>
<text x="974.30" y="336.60" font-size="14.3" fill="#fff" font-weight="bold" textLength="233.45" lengthAdjust="spacingAndGlyphs" stroke="#000" stroke-width="1.6" stroke-opacity="0.55" paint-order="stroke">This would be the likely accumulation</text>
<text x="974.50" y="349.60" font-size="14.3" fill="#fff" font-weight="bold" textLength="225.68" lengthAdjust="spacingAndGlyphs" stroke="#000" stroke-width="1.6" stroke-opacity="0.55" paint-order="stroke">range before next large upside move</text>
<text x="865.40" y="496.00" font-size="14.3" fill="#fff" font-weight="bold" textLength="270.02" lengthAdjust="spacingAndGlyphs" stroke="#000" stroke-width="1.6" stroke-opacity="0.55" paint-order="stroke">INstant reversal zone. Prices at these levels</text>
<text x="865.73" y="508.70" font-size="14.3" fill="#fff" font-weight="bold" textLength="252.75" lengthAdjust="spacingAndGlyphs" stroke="#000" stroke-width="1.6" stroke-opacity="0.55" paint-order="stroke">would theoretically be bought up quickly</text>
<text x="11.50" y="20.80" font-size="13" fill="#d6d8de" textLength="102.01" lengthAdjust="spacingAndGlyphs" stroke="#d6d8de" stroke-width="0.5">NebraskanGooner</text>
<text x="119.00" y="20.80" font-size="13" fill="#d6d8de" textLength="55.51" lengthAdjust="spacingAndGlyphs" stroke="#d6d8de" stroke-width="0.5">published</text>
<text x="179.00" y="20.80" font-size="13" fill="#d6d8de" textLength="14.03" lengthAdjust="spacingAndGlyphs" stroke="#d6d8de" stroke-width="0.5">on</text>
<text x="197.50" y="20.80" font-size="13" fill="#d6d8de" textLength="102.03" lengthAdjust="spacingAndGlyphs" stroke="#d6d8de" stroke-width="0.5">TradingView.com,</text>
<text x="305.30" y="20.80" font-size="13" fill="#d6d8de" textLength="20.68" lengthAdjust="spacingAndGlyphs" stroke="#d6d8de" stroke-width="0.5">Dec</text>
<text x="330.80" y="20.80" font-size="13" fill="#d6d8de" textLength="16.00" lengthAdjust="spacingAndGlyphs" stroke="#d6d8de" stroke-width="0.5">28,</text>
<text x="353.10" y="20.80" font-size="13" fill="#d6d8de" textLength="27.15" lengthAdjust="spacingAndGlyphs" stroke="#d6d8de" stroke-width="0.5">2022</text>
<text x="385.00" y="20.80" font-size="13" fill="#d6d8de" textLength="30.83" lengthAdjust="spacingAndGlyphs" stroke="#d6d8de" stroke-width="0.5">08:17</text>
<text x="421.70" y="20.80" font-size="13" fill="#d6d8de" textLength="35.35" lengthAdjust="spacingAndGlyphs" stroke="#d6d8de" stroke-width="0.5">UTC-6</text>
<path d="M10.9,790.3h8.4v10.75h-4.6v-6.05h-3.8z" fill="#d8dae0"/><circle cx="23.2" cy="792.7" r="2.3" fill="#d8dae0"/><path d="M27.85,790.3h4.65l-3.4,10.75h-5.7z" fill="#d8dae0"/><text x="36.10" y="801.60" font-size="14" fill="#d8dae0" textLength="77.30" lengthAdjust="spacingAndGlyphs" stroke="#d8dae0" stroke-width="0.7">TradingView</text>
</svg>
</body></html>
